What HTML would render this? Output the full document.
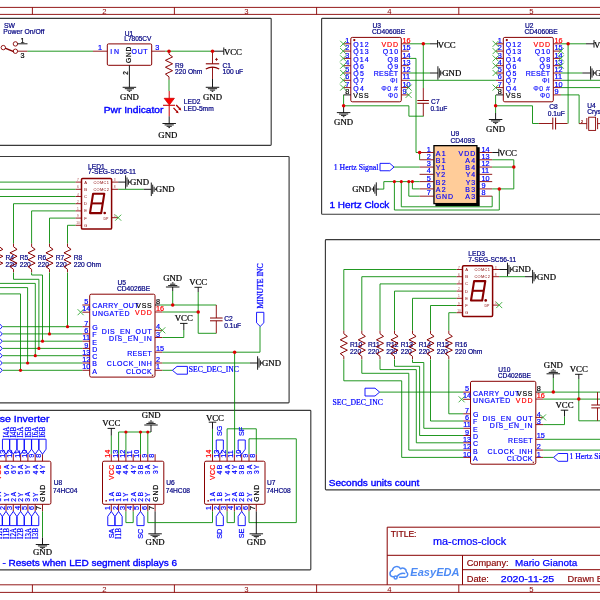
<!DOCTYPE html>
<html><head><meta charset="utf-8"><title>ma-cmos-clock</title>
<style>html,body{margin:0;padding:0;background:#fff;overflow:hidden}svg{display:block;will-change:transform}text{white-space:pre}</style>
</head><body>
<svg width="600" height="600" viewBox="0 0 600 600" font-family="Liberation Sans, sans-serif">
<rect x="0" y="0" width="600" height="600" fill="#ffffff"/>
<polyline points="-5,7.4 605,7.4" stroke="#880000" stroke-width="0.9" fill="none" />
<polyline points="-5,14.4 605,14.4" stroke="#880000" stroke-width="0.9" fill="none" />
<polyline points="-5,584.8 605,584.8" stroke="#880000" stroke-width="0.9" fill="none" />
<polyline points="-5,592.4 605,592.4" stroke="#880000" stroke-width="0.9" fill="none" />
<polyline points="32.4,7.4 32.4,14.4" stroke="#880000" stroke-width="0.9" fill="none" />
<polyline points="32.4,584.8 32.4,592.5" stroke="#880000" stroke-width="0.9" fill="none" />
<polyline points="174.4,7.4 174.4,14.4" stroke="#880000" stroke-width="0.9" fill="none" />
<polyline points="174.4,584.8 174.4,592.5" stroke="#880000" stroke-width="0.9" fill="none" />
<polyline points="316.6,7.4 316.6,14.4" stroke="#880000" stroke-width="0.9" fill="none" />
<polyline points="316.6,584.8 316.6,592.5" stroke="#880000" stroke-width="0.9" fill="none" />
<polyline points="458.8,7.4 458.8,14.4" stroke="#880000" stroke-width="0.9" fill="none" />
<polyline points="458.8,584.8 458.8,592.5" stroke="#880000" stroke-width="0.9" fill="none" />
<text x="104.5" y="13.7" font-family="Liberation Sans" font-size="7.74" fill="#880000" text-anchor="middle">2</text>
<text x="104.5" y="591.6" font-family="Liberation Sans" font-size="7.74" fill="#880000" text-anchor="middle">2</text>
<text x="246.5" y="13.7" font-family="Liberation Sans" font-size="7.74" fill="#880000" text-anchor="middle">3</text>
<text x="246.5" y="591.6" font-family="Liberation Sans" font-size="7.74" fill="#880000" text-anchor="middle">3</text>
<text x="389.5" y="13.7" font-family="Liberation Sans" font-size="7.74" fill="#880000" text-anchor="middle">4</text>
<text x="389.5" y="591.6" font-family="Liberation Sans" font-size="7.74" fill="#880000" text-anchor="middle">4</text>
<text x="531.5" y="13.7" font-family="Liberation Sans" font-size="7.74" fill="#880000" text-anchor="middle">5</text>
<text x="531.5" y="591.6" font-family="Liberation Sans" font-size="7.74" fill="#880000" text-anchor="middle">5</text>
<rect x="-10" y="18.4" width="281.2" height="126.9" stroke="#3a3a3a" stroke-width="1.15" fill="none" rx="0.8"/>
<rect x="321.6" y="18.4" width="378.4" height="195.9" stroke="#3a3a3a" stroke-width="1.15" fill="none" rx="0.8"/>
<rect x="-10" y="156.5" width="299.1" height="246.4" stroke="#3a3a3a" stroke-width="1.15" fill="none" rx="0.8"/>
<rect x="-10" y="410.3" width="320.8" height="159.5" stroke="#3a3a3a" stroke-width="1.15" fill="none" rx="0.8"/>
<rect x="325.4" y="239.6" width="374.6" height="250.2" stroke="#3a3a3a" stroke-width="1.15" fill="none" rx="0.8"/>
<polyline points="387.2,584.8 387.2,527.2 605,527.2" stroke="#880000" stroke-width="1" fill="none" />
<polyline points="387.2,555.3 605,555.3" stroke="#880000" stroke-width="1" fill="none" />
<polyline points="462.5,555.3 462.5,584.8" stroke="#880000" stroke-width="1" fill="none" />
<polyline points="462.5,569.7 605,569.7" stroke="#880000" stroke-width="1" fill="none" />
<text x="390.8" y="536.7" font-family="Liberation Sans" font-size="8.27" fill="#880000" textLength="25.71" lengthAdjust="spacingAndGlyphs" stroke="#880000" stroke-width="0.2">TITLE:</text>
<text x="433" y="545.2" font-family="Liberation Sans" font-size="10.18" fill="#0000ff" textLength="73.14" lengthAdjust="spacingAndGlyphs" stroke="#0000ff" stroke-width="0.2">ma-cmos-clock</text>
<text x="466.7" y="565.6" font-family="Liberation Sans" font-size="8.59" fill="#880000" textLength="41.97" lengthAdjust="spacingAndGlyphs" stroke="#880000" stroke-width="0.15">Company:</text>
<text x="515" y="565.8" font-family="Liberation Sans" font-size="9.43" fill="#0000ff" textLength="62.2" lengthAdjust="spacingAndGlyphs" stroke="#0000ff" stroke-width="0.25">Mario Gianota</text>
<text x="466.7" y="581.5" font-family="Liberation Sans" font-size="8.37" fill="#880000" textLength="22.25" lengthAdjust="spacingAndGlyphs" stroke="#880000" stroke-width="0.15">Date:</text>
<text x="500.8" y="581.7" font-family="Liberation Sans" font-size="9.43" fill="#0000ff" textLength="53.36" lengthAdjust="spacingAndGlyphs" stroke="#0000ff" stroke-width="0.25">2020-11-25</text>
<text x="567.5" y="581.5" font-family="Liberation Sans" font-size="8.48" fill="#880000" textLength="42.67" lengthAdjust="spacingAndGlyphs" stroke="#880000" stroke-width="0.15">Drawn By:</text>
<g transform="translate(0,1.2)" fill="none" stroke="#4d8bf5" stroke-width="1.5" stroke-linecap="round" stroke-linejoin="round"><path d="M394.2 575.6 H392.6 A3.3 3.3 0 0 1 392.4 569.2 A4.4 4.4 0 0 1 400.6 567.6 A3.6 3.6 0 0 1 406.3 570.6 A2.9 2.9 0 0 1 405.2 576 H399.5"/><circle cx="395.6" cy="576.3" r="1.5"/><path d="M397 575.4 C399 572.6 401.5 571.6 404.6 572.2"/></g>
<text x="410.3" y="576.2" font-family="Liberation Sans" font-size="11.4" fill="#4d8bf5" textLength="49.2" lengthAdjust="spacingAndGlyphs" font-weight="bold" font-style="italic">EasyEDA</text>
<text x="3.9" y="28" font-family="Liberation Sans" font-size="6.8" fill="#000080" stroke="#000080" stroke-width="0.2">SW</text>
<text x="3.3" y="33.9" font-family="Liberation Sans" font-size="6.8" fill="#000080" stroke="#000080" stroke-width="0.2">Power On/Off</text>
<circle cx="15.4" cy="43.9" r="2.2" fill="#fff" stroke="#880000" stroke-width="0.9"/>
<circle cx="15.4" cy="51.25" r="2.2" fill="#fff" stroke="#880000" stroke-width="0.9"/>
<circle cx="3.3" cy="47.6" r="2.2" fill="#fff" stroke="#880000" stroke-width="0.9"/>
<polyline points="5.1,48.1 13.7,51.6" stroke="#880000" stroke-width="1.5" fill="none" />
<polyline points="17.4,43.8 27.5,43.8" stroke="#000000" stroke-width="0.9" fill="none" />
<polyline points="17.4,51.2 27.5,51.2" stroke="#880000" stroke-width="0.9" fill="none" />
<text x="22.4" y="43.4" font-family="Liberation Sans" font-size="7.2" fill="#000000" text-anchor="middle" stroke="#000000" stroke-width="0.2">1</text>
<text x="22.5" y="58.1" font-family="Liberation Sans" font-size="7.2" fill="#000000" text-anchor="middle" stroke="#000000" stroke-width="0.2">3</text>
<polyline points="27.5,51.2 93,51.2" stroke="#008800" stroke-width="0.87" fill="none" />
<polyline points="93,51.2 107.3,51.2" stroke="#880000" stroke-width="0.9" fill="none" />
<rect x="107.3" y="43.9" width="44.4" height="21.4" stroke="#880000" stroke-width="1" fill="none" rx="1.2"/>
<text x="124.8" y="35.6" font-family="Liberation Sans" font-size="6.65" fill="#000080" stroke="#000080" stroke-width="0.2">U1</text>
<text x="124.3" y="41.4" font-family="Liberation Sans" font-size="6.5" fill="#000080" stroke="#000080" stroke-width="0.2">L7805CV</text>
<text x="110.2" y="53.6" font-family="Liberation Sans" font-size="6.98" fill="#0000ff" textLength="8.77" lengthAdjust="spacing" stroke="#0000ff" stroke-width="0.18">IN</text>
<text x="131.6" y="53.6" font-family="Liberation Sans" font-size="6.98" fill="#0000ff" textLength="16.01" lengthAdjust="spacing" stroke="#0000ff" stroke-width="0.18">OUT</text>
<text x="131.4" y="63" font-family="Liberation Sans" font-size="6.6" fill="#000000" transform="rotate(-90 131.4 63)" textLength="16.29" lengthAdjust="spacing" stroke="#000000" stroke-width="0.18">GND</text>
<text x="100" y="50.1" font-family="Liberation Sans" font-size="7.3" fill="#0000ff" text-anchor="middle" stroke="#0000ff" stroke-width="0.2">1</text>
<text x="157.4" y="50.1" font-family="Liberation Sans" font-size="7.3" fill="#0000ff" text-anchor="middle" stroke="#0000ff" stroke-width="0.2">3</text>
<text x="127.6" y="74.8" font-family="Liberation Sans" font-size="6.4" fill="#000000" transform="rotate(-90 127.6 74.8)" stroke="#000000" stroke-width="0.2">2</text>
<polyline points="129.4,65.3 129.4,87.3" stroke="#000000" stroke-width="0.9" fill="none" />
<polyline points="122.65,87.3 136.15,87.3" stroke="#000000" stroke-width="0.9" fill="none" />
<polyline points="124.8,88.7 134,88.7" stroke="#000000" stroke-width="0.9" fill="none" />
<polyline points="126.8,90.1 132,90.1" stroke="#000000" stroke-width="0.9" fill="none" />
<polyline points="128.6,91.4 130.2,91.4" stroke="#000000" stroke-width="0.9" fill="none" />
<text x="129.4" y="99.5" font-family="Liberation Serif" font-size="8.75" fill="#000000" text-anchor="middle" stroke="#000000" stroke-width="0.22">GND</text>
<text x="103.8" y="112.6" font-family="Liberation Sans" font-size="9.43" fill="#0000ff" textLength="59.64" lengthAdjust="spacingAndGlyphs" stroke="#0000ff" stroke-width="0.35">Pwr Indicator</text>
<polyline points="151.7,51.2 165.3,51.2" stroke="#880000" stroke-width="0.9" fill="none" />
<polyline points="165.3,51.2 212.5,51.2" stroke="#008800" stroke-width="0.87" fill="none" />
<polyline points="212.5,51.2 223.8,51.2" stroke="#000000" stroke-width="0.9" fill="none" />
<polyline points="223.8,47.45 223.8,54.95" stroke="#000000" stroke-width="0.9" fill="none" />
<text x="223.9" y="54.9" font-family="Liberation Serif" font-size="8.75" fill="#000000" stroke="#000000" stroke-width="0.22">VCC</text>
<polyline points="169,51.2 169,54.2" stroke="#880000" stroke-width="0.9" fill="none" />
<polyline points="169,54.2 172.55,56.9 165.45,60.34 172.55,63.78 165.45,67.22 172.55,70.66 165.45,74.1 169,76.8" stroke="#880000" stroke-width="1" fill="none" stroke-linejoin="miter"/>
<polyline points="169,76.8 169,79.8" stroke="#880000" stroke-width="0.9" fill="none" />
<polyline points="169,79.8 169,91" stroke="#008800" stroke-width="0.87" fill="none" />
<polyline points="169.2,91 169.2,98.3" stroke="#cc0000" stroke-width="1" fill="none" />
<text x="175" y="67.6" font-family="Liberation Sans" font-size="6.65" fill="#000080" stroke="#000080" stroke-width="0.2">R9</text>
<text x="175" y="74.3" font-family="Liberation Sans" font-size="6.65" fill="#000080" stroke="#000080" stroke-width="0.2">220 Ohm</text>
<polygon points="164.2,98.3 174.4,98.3 169.3,105" fill="#ff0000" stroke="#cc0000" stroke-width="0.8"/>
<polyline points="163,105.3 175,105.3" stroke="#cc0000" stroke-width="1.1" fill="none" />
<polyline points="169.2,105.3 169.2,116.3" stroke="#cc0000" stroke-width="1" fill="none" />
<polyline points="169.2,116.3 169.2,123.5" stroke="#000000" stroke-width="0.9" fill="none" />
<polyline points="162.45,123.5 175.95,123.5" stroke="#000000" stroke-width="0.9" fill="none" />
<polyline points="164.6,124.9 173.8,124.9" stroke="#000000" stroke-width="0.9" fill="none" />
<polyline points="166.6,126.3 171.8,126.3" stroke="#000000" stroke-width="0.9" fill="none" />
<polyline points="168.4,127.6 170,127.6" stroke="#000000" stroke-width="0.9" fill="none" />
<text x="167.8" y="138.4" font-family="Liberation Serif" font-size="8.75" fill="#000000" text-anchor="middle" stroke="#000000" stroke-width="0.22">GND</text>
<polyline points="176.2,105 180,109" stroke="#aa0000" stroke-width="1.3" fill="none" />
<polygon points="181.3,110.4 178.3,109.6 180.4,107.6" fill="#aa0000"/>
<polyline points="173.5,107.9 177.3,111.9" stroke="#aa0000" stroke-width="1.3" fill="none" />
<polygon points="178.6,113.3 175.6,112.5 177.7,110.5" fill="#aa0000"/>
<text x="183.8" y="103.9" font-family="Liberation Sans" font-size="6.65" fill="#000080" stroke="#000080" stroke-width="0.2">LED2</text>
<text x="183.8" y="110.5" font-family="Liberation Sans" font-size="6.65" fill="#000080" stroke="#000080" stroke-width="0.2">LED-5mm</text>
<polyline points="212.5,51.2 212.5,63.8" stroke="#880000" stroke-width="0.9" fill="none" />
<polyline points="205.8,63.8 219.2,63.8" stroke="#880000" stroke-width="1.1" fill="none" />
<path d="M205.8 69 Q212.5 65.2 219.2 69" stroke="#880000" stroke-width="1.1" fill="none"/>
<polyline points="212.5,67.1 212.5,79" stroke="#880000" stroke-width="0.9" fill="none" />
<polyline points="212.5,79 212.5,87.3" stroke="#000000" stroke-width="0.9" fill="none" />
<polyline points="205.75,87.3 219.25,87.3" stroke="#000000" stroke-width="0.9" fill="none" />
<polyline points="207.9,88.7 217.1,88.7" stroke="#000000" stroke-width="0.9" fill="none" />
<polyline points="209.9,90.1 215.1,90.1" stroke="#000000" stroke-width="0.9" fill="none" />
<polyline points="211.7,91.4 213.3,91.4" stroke="#000000" stroke-width="0.9" fill="none" />
<text x="212.5" y="99.5" font-family="Liberation Serif" font-size="8.75" fill="#000000" text-anchor="middle" stroke="#000000" stroke-width="0.22">GND</text>
<polyline points="215,59.4 218,59.4" stroke="#880000" stroke-width="0.8" fill="none" />
<polyline points="216.5,57.9 216.5,60.9" stroke="#880000" stroke-width="0.8" fill="none" />
<text x="222.5" y="67.6" font-family="Liberation Sans" font-size="6.65" fill="#000080" stroke="#000080" stroke-width="0.2">C1</text>
<text x="222.5" y="74.3" font-family="Liberation Sans" font-size="6.65" fill="#000080" stroke="#000080" stroke-width="0.2">100 uF</text>
<rect x="350.8" y="37.4" width="50.5" height="64.4" stroke="#880000" stroke-width="1" fill="none" rx="1.5"/>
<circle cx="354.3" cy="40.1" r="1.15" fill="#880000"/>
<text x="372.5" y="27.6" font-family="Liberation Sans" font-size="6.65" fill="#000080" stroke="#000080" stroke-width="0.2">U3</text>
<text x="372" y="33.9" font-family="Liberation Sans" font-size="6.65" fill="#000080" stroke="#000080" stroke-width="0.2">CD4060BE</text>
<text x="353.2" y="46.9" font-family="Liberation Sans" font-size="6.98" fill="#0000ff" textLength="15.44" lengthAdjust="spacing" stroke="#0000ff" stroke-width="0.18">Q12</text>
<polyline points="343.5,43.8 350.8,43.8" stroke="#880000" stroke-width="0.9" fill="none" />
<text x="347.4" y="42.9" font-family="Liberation Sans" font-size="7.3" fill="#0000ff" text-anchor="middle" stroke="#0000ff" stroke-width="0.2">1</text>
<text x="398.1" y="46.9" font-family="Liberation Sans" font-size="6.98" fill="#ff0000" text-anchor="end" textLength="16.7" lengthAdjust="spacing" stroke="#ff0000" stroke-width="0.18">VDD</text>
<polyline points="401.3,43.8 408.9,43.8" stroke="#880000" stroke-width="0.9" fill="none" />
<text x="402.5" y="42.9" font-family="Liberation Sans" font-size="7.3" fill="#ff0000" stroke="#ff0000" stroke-width="0.2">16</text>
<text x="353.2" y="54.2" font-family="Liberation Sans" font-size="6.98" fill="#0000ff" textLength="15.44" lengthAdjust="spacing" stroke="#0000ff" stroke-width="0.18">Q13</text>
<polyline points="343.5,51.1 350.8,51.1" stroke="#880000" stroke-width="0.9" fill="none" />
<text x="347.4" y="50.2" font-family="Liberation Sans" font-size="7.3" fill="#0000ff" text-anchor="middle" stroke="#0000ff" stroke-width="0.2">2</text>
<text x="398.1" y="54.2" font-family="Liberation Sans" font-size="6.98" fill="#0000ff" text-anchor="end" textLength="15.44" lengthAdjust="spacing" stroke="#0000ff" stroke-width="0.18">Q10</text>
<polyline points="401.3,51.1 408.9,51.1" stroke="#880000" stroke-width="0.9" fill="none" />
<text x="402.5" y="50.2" font-family="Liberation Sans" font-size="7.3" fill="#0000ff" stroke="#0000ff" stroke-width="0.2">15</text>
<text x="353.2" y="61.5" font-family="Liberation Sans" font-size="6.98" fill="#0000ff" textLength="15.44" lengthAdjust="spacing" stroke="#0000ff" stroke-width="0.18">Q14</text>
<polyline points="343.5,58.4 350.8,58.4" stroke="#880000" stroke-width="0.9" fill="none" />
<text x="347.4" y="57.5" font-family="Liberation Sans" font-size="7.3" fill="#0000ff" text-anchor="middle" stroke="#0000ff" stroke-width="0.2">3</text>
<text x="398.1" y="61.5" font-family="Liberation Sans" font-size="6.98" fill="#0000ff" text-anchor="end" textLength="10.67" lengthAdjust="spacing" stroke="#0000ff" stroke-width="0.18">Q8</text>
<polyline points="401.3,58.4 408.9,58.4" stroke="#880000" stroke-width="0.9" fill="none" />
<text x="402.5" y="57.5" font-family="Liberation Sans" font-size="7.3" fill="#0000ff" stroke="#0000ff" stroke-width="0.2">14</text>
<text x="353.2" y="68.8" font-family="Liberation Sans" font-size="6.98" fill="#0000ff" textLength="10.67" lengthAdjust="spacing" stroke="#0000ff" stroke-width="0.18">Q6</text>
<polyline points="343.5,65.7 350.8,65.7" stroke="#880000" stroke-width="0.9" fill="none" />
<text x="347.4" y="64.8" font-family="Liberation Sans" font-size="7.3" fill="#0000ff" text-anchor="middle" stroke="#0000ff" stroke-width="0.2">4</text>
<text x="398.1" y="68.8" font-family="Liberation Sans" font-size="6.98" fill="#0000ff" text-anchor="end" textLength="10.67" lengthAdjust="spacing" stroke="#0000ff" stroke-width="0.18">Q9</text>
<polyline points="401.3,65.7 408.9,65.7" stroke="#880000" stroke-width="0.9" fill="none" />
<text x="402.5" y="64.8" font-family="Liberation Sans" font-size="7.3" fill="#0000ff" stroke="#0000ff" stroke-width="0.2">13</text>
<text x="353.2" y="76.1" font-family="Liberation Sans" font-size="6.98" fill="#0000ff" textLength="10.67" lengthAdjust="spacing" stroke="#0000ff" stroke-width="0.18">Q5</text>
<polyline points="343.5,73 350.8,73" stroke="#880000" stroke-width="0.9" fill="none" />
<text x="347.4" y="72.1" font-family="Liberation Sans" font-size="7.3" fill="#0000ff" text-anchor="middle" stroke="#0000ff" stroke-width="0.2">5</text>
<text x="398.1" y="76.1" font-family="Liberation Sans" font-size="6.98" fill="#0000ff" text-anchor="end" textLength="24.44" lengthAdjust="spacing" stroke="#0000ff" stroke-width="0.18">RESET</text>
<polyline points="401.3,73 408.9,73" stroke="#880000" stroke-width="0.9" fill="none" />
<text x="402.5" y="72.1" font-family="Liberation Sans" font-size="7.3" fill="#0000ff" stroke="#0000ff" stroke-width="0.2">12</text>
<text x="353.2" y="83.4" font-family="Liberation Sans" font-size="6.98" fill="#0000ff" textLength="10.67" lengthAdjust="spacing" stroke="#0000ff" stroke-width="0.18">Q7</text>
<polyline points="343.5,80.3 350.8,80.3" stroke="#880000" stroke-width="0.9" fill="none" />
<text x="347.4" y="79.4" font-family="Liberation Sans" font-size="7.3" fill="#0000ff" text-anchor="middle" stroke="#0000ff" stroke-width="0.2">6</text>
<text x="398.3" y="83.4" font-family="Liberation Sans" font-size="6.9" fill="#0000ff" text-anchor="end" stroke="#0000ff" stroke-width="0.1" letter-spacing="0.5">ΦI</text>
<polyline points="401.3,80.3 408.9,80.3" stroke="#880000" stroke-width="0.9" fill="none" />
<text x="402.5" y="79.4" font-family="Liberation Sans" font-size="7.3" fill="#0000ff" stroke="#0000ff" stroke-width="0.2">11</text>
<text x="353.2" y="90.7" font-family="Liberation Sans" font-size="6.98" fill="#0000ff" textLength="10.67" lengthAdjust="spacing" stroke="#0000ff" stroke-width="0.18">Q4</text>
<polyline points="343.5,87.6 350.8,87.6" stroke="#880000" stroke-width="0.9" fill="none" />
<text x="347.4" y="86.7" font-family="Liberation Sans" font-size="7.3" fill="#0000ff" text-anchor="middle" stroke="#0000ff" stroke-width="0.2">7</text>
<text x="398.3" y="90.7" font-family="Liberation Sans" font-size="6.9" fill="#0000ff" text-anchor="end" stroke="#0000ff" stroke-width="0.1" letter-spacing="0.5">Φ0 #</text>
<polyline points="401.3,87.6 408.9,87.6" stroke="#880000" stroke-width="0.9" fill="none" />
<text x="402.5" y="86.7" font-family="Liberation Sans" font-size="7.3" fill="#0000ff" stroke="#0000ff" stroke-width="0.2">10</text>
<text x="353.2" y="98" font-family="Liberation Sans" font-size="6.98" fill="#000000" textLength="15.39" lengthAdjust="spacing" stroke="#000000" stroke-width="0.18">VSS</text>
<polyline points="343.5,94.9 350.8,94.9" stroke="#000000" stroke-width="0.9" fill="none" />
<text x="347.4" y="94" font-family="Liberation Sans" font-size="7.3" fill="#000000" text-anchor="middle" stroke="#000000" stroke-width="0.2">8</text>
<text x="398.3" y="98" font-family="Liberation Sans" font-size="6.9" fill="#0000ff" text-anchor="end" stroke="#0000ff" stroke-width="0.1" letter-spacing="0.5">Φ0</text>
<polyline points="401.3,94.9 408.9,94.9" stroke="#880000" stroke-width="0.9" fill="none" />
<text x="402.5" y="94" font-family="Liberation Sans" font-size="7.3" fill="#0000ff" stroke="#0000ff" stroke-width="0.2">9</text>
<polyline points="340.2,40.8 346.2,46.8" stroke="#33aa33" stroke-width="0.9" fill="none" />
<polyline points="340.2,46.8 346.2,40.8" stroke="#33aa33" stroke-width="0.9" fill="none" />
<polyline points="340.2,48.1 346.2,54.1" stroke="#33aa33" stroke-width="0.9" fill="none" />
<polyline points="340.2,54.1 346.2,48.1" stroke="#33aa33" stroke-width="0.9" fill="none" />
<polyline points="340.2,55.4 346.2,61.4" stroke="#33aa33" stroke-width="0.9" fill="none" />
<polyline points="340.2,61.4 346.2,55.4" stroke="#33aa33" stroke-width="0.9" fill="none" />
<polyline points="340.2,62.7 346.2,68.7" stroke="#33aa33" stroke-width="0.9" fill="none" />
<polyline points="340.2,68.7 346.2,62.7" stroke="#33aa33" stroke-width="0.9" fill="none" />
<polyline points="340.2,70 346.2,76" stroke="#33aa33" stroke-width="0.9" fill="none" />
<polyline points="340.2,76 346.2,70" stroke="#33aa33" stroke-width="0.9" fill="none" />
<polyline points="340.2,77.3 346.2,83.3" stroke="#33aa33" stroke-width="0.9" fill="none" />
<polyline points="340.2,83.3 346.2,77.3" stroke="#33aa33" stroke-width="0.9" fill="none" />
<polyline points="340.2,84.6 346.2,90.6" stroke="#33aa33" stroke-width="0.9" fill="none" />
<polyline points="340.2,90.6 346.2,84.6" stroke="#33aa33" stroke-width="0.9" fill="none" />
<polyline points="405.6,84.6 411.6,90.6" stroke="#33aa33" stroke-width="0.9" fill="none" />
<polyline points="405.6,90.6 411.6,84.6" stroke="#33aa33" stroke-width="0.9" fill="none" />
<polyline points="405.6,91.9 411.6,97.9" stroke="#33aa33" stroke-width="0.9" fill="none" />
<polyline points="405.6,97.9 411.6,91.9" stroke="#33aa33" stroke-width="0.9" fill="none" />
<polyline points="343.6,94.9 343.6,105.8" stroke="#008800" stroke-width="0.87" fill="none" />
<polyline points="343.6,105.8 343.6,112.6" stroke="#000000" stroke-width="0.9" fill="none" />
<polyline points="336.85,112.6 350.35,112.6" stroke="#000000" stroke-width="0.9" fill="none" />
<polyline points="339,114 348.2,114" stroke="#000000" stroke-width="0.9" fill="none" />
<polyline points="341,115.4 346.2,115.4" stroke="#000000" stroke-width="0.9" fill="none" />
<polyline points="342.8,116.7 344.4,116.7" stroke="#000000" stroke-width="0.9" fill="none" />
<text x="343.6" y="124.8" font-family="Liberation Serif" font-size="8.75" fill="#000000" text-anchor="middle" stroke="#000000" stroke-width="0.22">GND</text>
<polyline points="408.9,43.8 430,43.8" stroke="#008800" stroke-width="0.87" fill="none" />
<polyline points="430,43.8 437.6,43.8" stroke="#000000" stroke-width="0.9" fill="none" />
<polyline points="437.6,40.05 437.6,47.55" stroke="#000000" stroke-width="0.9" fill="none" />
<text x="437.7" y="47.5" font-family="Liberation Serif" font-size="8.75" fill="#000000" stroke="#000000" stroke-width="0.22">VCC</text>
<polyline points="423.3,43.8 423.3,88" stroke="#008800" stroke-width="0.87" fill="none" />
<polyline points="423.3,88 423.3,100.5" stroke="#880000" stroke-width="0.9" fill="none" />
<polyline points="417.3,100.5 428.9,100.5" stroke="#880000" stroke-width="1" fill="none" />
<polyline points="417.3,103.3 428.9,103.3" stroke="#880000" stroke-width="1" fill="none" />
<polyline points="423.3,103.3 423.3,116.2" stroke="#880000" stroke-width="0.9" fill="none" />
<polyline points="423.6,116.2 408.9,116.2 408.9,105.8 343.6,105.8" stroke="#008800" stroke-width="0.87" fill="none" />
<text x="431.1" y="104.1" font-family="Liberation Sans" font-size="6.65" fill="#000080" stroke="#000080" stroke-width="0.2">C7</text>
<text x="430.4" y="110.8" font-family="Liberation Sans" font-size="6.65" fill="#000080" stroke="#000080" stroke-width="0.2">0.1uF</text>
<polyline points="408.9,58.4 416,58.4 416,152.5 419.6,152.5" stroke="#008800" stroke-width="0.87" fill="none" />
<polyline points="408.9,73 430,73" stroke="#008800" stroke-width="0.87" fill="none" />
<polyline points="430,73 437.9,73" stroke="#000000" stroke-width="0.9" fill="none" />
<polyline points="437.9,66.25 437.9,79.75" stroke="#000000" stroke-width="0.9" fill="none" />
<polyline points="439.3,68.4 439.3,77.6" stroke="#000000" stroke-width="0.9" fill="none" />
<polyline points="440.7,70.4 440.7,75.6" stroke="#000000" stroke-width="0.9" fill="none" />
<polyline points="442,72.2 442,73.8" stroke="#000000" stroke-width="0.9" fill="none" />
<text x="442.3" y="75.8" font-family="Liberation Serif" font-size="8.75" fill="#000000" stroke="#000000" stroke-width="0.22">GND</text>
<polyline points="408.9,80.3 495.9,80.3" stroke="#008800" stroke-width="0.87" fill="none" />
<rect x="503.3" y="37.4" width="50" height="64.4" stroke="#880000" stroke-width="1" fill="none" rx="1.5"/>
<circle cx="506.8" cy="40.1" r="1.15" fill="#880000"/>
<text x="525" y="27.6" font-family="Liberation Sans" font-size="6.65" fill="#000080" stroke="#000080" stroke-width="0.2">U2</text>
<text x="524.5" y="33.9" font-family="Liberation Sans" font-size="6.65" fill="#000080" stroke="#000080" stroke-width="0.2">CD4060BE</text>
<text x="505.7" y="46.9" font-family="Liberation Sans" font-size="6.98" fill="#0000ff" textLength="15.44" lengthAdjust="spacing" stroke="#0000ff" stroke-width="0.18">Q12</text>
<polyline points="496,43.8 503.3,43.8" stroke="#880000" stroke-width="0.9" fill="none" />
<text x="499.9" y="42.9" font-family="Liberation Sans" font-size="7.3" fill="#0000ff" text-anchor="middle" stroke="#0000ff" stroke-width="0.2">1</text>
<text x="550.1" y="46.9" font-family="Liberation Sans" font-size="6.98" fill="#ff0000" text-anchor="end" textLength="16.7" lengthAdjust="spacing" stroke="#ff0000" stroke-width="0.18">VDD</text>
<polyline points="553.3,43.8 560.9,43.8" stroke="#880000" stroke-width="0.9" fill="none" />
<text x="554.5" y="42.9" font-family="Liberation Sans" font-size="7.3" fill="#ff0000" stroke="#ff0000" stroke-width="0.2">16</text>
<text x="505.7" y="54.2" font-family="Liberation Sans" font-size="6.98" fill="#0000ff" textLength="15.44" lengthAdjust="spacing" stroke="#0000ff" stroke-width="0.18">Q13</text>
<polyline points="496,51.1 503.3,51.1" stroke="#880000" stroke-width="0.9" fill="none" />
<text x="499.9" y="50.2" font-family="Liberation Sans" font-size="7.3" fill="#0000ff" text-anchor="middle" stroke="#0000ff" stroke-width="0.2">2</text>
<text x="550.1" y="54.2" font-family="Liberation Sans" font-size="6.98" fill="#0000ff" text-anchor="end" textLength="15.44" lengthAdjust="spacing" stroke="#0000ff" stroke-width="0.18">Q10</text>
<polyline points="553.3,51.1 560.9,51.1" stroke="#880000" stroke-width="0.9" fill="none" />
<text x="554.5" y="50.2" font-family="Liberation Sans" font-size="7.3" fill="#0000ff" stroke="#0000ff" stroke-width="0.2">15</text>
<text x="505.7" y="61.5" font-family="Liberation Sans" font-size="6.98" fill="#0000ff" textLength="15.44" lengthAdjust="spacing" stroke="#0000ff" stroke-width="0.18">Q14</text>
<polyline points="496,58.4 503.3,58.4" stroke="#880000" stroke-width="0.9" fill="none" />
<text x="499.9" y="57.5" font-family="Liberation Sans" font-size="7.3" fill="#0000ff" text-anchor="middle" stroke="#0000ff" stroke-width="0.2">3</text>
<text x="550.1" y="61.5" font-family="Liberation Sans" font-size="6.98" fill="#0000ff" text-anchor="end" textLength="10.67" lengthAdjust="spacing" stroke="#0000ff" stroke-width="0.18">Q8</text>
<polyline points="553.3,58.4 560.9,58.4" stroke="#880000" stroke-width="0.9" fill="none" />
<text x="554.5" y="57.5" font-family="Liberation Sans" font-size="7.3" fill="#0000ff" stroke="#0000ff" stroke-width="0.2">14</text>
<text x="505.7" y="68.8" font-family="Liberation Sans" font-size="6.98" fill="#0000ff" textLength="10.67" lengthAdjust="spacing" stroke="#0000ff" stroke-width="0.18">Q6</text>
<polyline points="496,65.7 503.3,65.7" stroke="#880000" stroke-width="0.9" fill="none" />
<text x="499.9" y="64.8" font-family="Liberation Sans" font-size="7.3" fill="#0000ff" text-anchor="middle" stroke="#0000ff" stroke-width="0.2">4</text>
<text x="550.1" y="68.8" font-family="Liberation Sans" font-size="6.98" fill="#0000ff" text-anchor="end" textLength="10.67" lengthAdjust="spacing" stroke="#0000ff" stroke-width="0.18">Q9</text>
<polyline points="553.3,65.7 560.9,65.7" stroke="#880000" stroke-width="0.9" fill="none" />
<text x="554.5" y="64.8" font-family="Liberation Sans" font-size="7.3" fill="#0000ff" stroke="#0000ff" stroke-width="0.2">13</text>
<text x="505.7" y="76.1" font-family="Liberation Sans" font-size="6.98" fill="#0000ff" textLength="10.67" lengthAdjust="spacing" stroke="#0000ff" stroke-width="0.18">Q5</text>
<polyline points="496,73 503.3,73" stroke="#880000" stroke-width="0.9" fill="none" />
<text x="499.9" y="72.1" font-family="Liberation Sans" font-size="7.3" fill="#0000ff" text-anchor="middle" stroke="#0000ff" stroke-width="0.2">5</text>
<text x="550.1" y="76.1" font-family="Liberation Sans" font-size="6.98" fill="#0000ff" text-anchor="end" textLength="24.44" lengthAdjust="spacing" stroke="#0000ff" stroke-width="0.18">RESET</text>
<polyline points="553.3,73 560.9,73" stroke="#880000" stroke-width="0.9" fill="none" />
<text x="554.5" y="72.1" font-family="Liberation Sans" font-size="7.3" fill="#0000ff" stroke="#0000ff" stroke-width="0.2">12</text>
<text x="505.7" y="83.4" font-family="Liberation Sans" font-size="6.98" fill="#0000ff" textLength="10.67" lengthAdjust="spacing" stroke="#0000ff" stroke-width="0.18">Q7</text>
<polyline points="496,80.3 503.3,80.3" stroke="#880000" stroke-width="0.9" fill="none" />
<text x="499.9" y="79.4" font-family="Liberation Sans" font-size="7.3" fill="#0000ff" text-anchor="middle" stroke="#0000ff" stroke-width="0.2">6</text>
<text x="550.3" y="83.4" font-family="Liberation Sans" font-size="6.9" fill="#0000ff" text-anchor="end" stroke="#0000ff" stroke-width="0.1" letter-spacing="0.5">ΦI</text>
<polyline points="553.3,80.3 560.9,80.3" stroke="#880000" stroke-width="0.9" fill="none" />
<text x="554.5" y="79.4" font-family="Liberation Sans" font-size="7.3" fill="#0000ff" stroke="#0000ff" stroke-width="0.2">11</text>
<text x="505.7" y="90.7" font-family="Liberation Sans" font-size="6.98" fill="#0000ff" textLength="10.67" lengthAdjust="spacing" stroke="#0000ff" stroke-width="0.18">Q4</text>
<polyline points="496,87.6 503.3,87.6" stroke="#880000" stroke-width="0.9" fill="none" />
<text x="499.9" y="86.7" font-family="Liberation Sans" font-size="7.3" fill="#0000ff" text-anchor="middle" stroke="#0000ff" stroke-width="0.2">7</text>
<text x="550.3" y="90.7" font-family="Liberation Sans" font-size="6.9" fill="#0000ff" text-anchor="end" stroke="#0000ff" stroke-width="0.1" letter-spacing="0.5">Φ0 #</text>
<polyline points="553.3,87.6 560.9,87.6" stroke="#880000" stroke-width="0.9" fill="none" />
<text x="554.5" y="86.7" font-family="Liberation Sans" font-size="7.3" fill="#0000ff" stroke="#0000ff" stroke-width="0.2">10</text>
<text x="505.7" y="98" font-family="Liberation Sans" font-size="6.98" fill="#000000" textLength="15.39" lengthAdjust="spacing" stroke="#000000" stroke-width="0.18">VSS</text>
<polyline points="496,94.9 503.3,94.9" stroke="#000000" stroke-width="0.9" fill="none" />
<text x="499.9" y="94" font-family="Liberation Sans" font-size="7.3" fill="#000000" text-anchor="middle" stroke="#000000" stroke-width="0.2">8</text>
<text x="550.3" y="98" font-family="Liberation Sans" font-size="6.9" fill="#0000ff" text-anchor="end" stroke="#0000ff" stroke-width="0.1" letter-spacing="0.5">Φ0</text>
<polyline points="553.3,94.9 560.9,94.9" stroke="#880000" stroke-width="0.9" fill="none" />
<text x="554.5" y="94" font-family="Liberation Sans" font-size="7.3" fill="#0000ff" stroke="#0000ff" stroke-width="0.2">9</text>
<polyline points="492.6,40.8 498.6,46.8" stroke="#33aa33" stroke-width="0.9" fill="none" />
<polyline points="492.6,46.8 498.6,40.8" stroke="#33aa33" stroke-width="0.9" fill="none" />
<polyline points="492.6,48.1 498.6,54.1" stroke="#33aa33" stroke-width="0.9" fill="none" />
<polyline points="492.6,54.1 498.6,48.1" stroke="#33aa33" stroke-width="0.9" fill="none" />
<polyline points="492.6,55.4 498.6,61.4" stroke="#33aa33" stroke-width="0.9" fill="none" />
<polyline points="492.6,61.4 498.6,55.4" stroke="#33aa33" stroke-width="0.9" fill="none" />
<polyline points="492.6,62.7 498.6,68.7" stroke="#33aa33" stroke-width="0.9" fill="none" />
<polyline points="492.6,68.7 498.6,62.7" stroke="#33aa33" stroke-width="0.9" fill="none" />
<polyline points="492.6,70 498.6,76" stroke="#33aa33" stroke-width="0.9" fill="none" />
<polyline points="492.6,76 498.6,70" stroke="#33aa33" stroke-width="0.9" fill="none" />
<polyline points="492.6,84.6 498.6,90.6" stroke="#33aa33" stroke-width="0.9" fill="none" />
<polyline points="492.6,90.6 498.6,84.6" stroke="#33aa33" stroke-width="0.9" fill="none" />
<polyline points="557.8,48.1 563.8,54.1" stroke="#33aa33" stroke-width="0.9" fill="none" />
<polyline points="557.8,54.1 563.8,48.1" stroke="#33aa33" stroke-width="0.9" fill="none" />
<polyline points="557.8,55.4 563.8,61.4" stroke="#33aa33" stroke-width="0.9" fill="none" />
<polyline points="557.8,61.4 563.8,55.4" stroke="#33aa33" stroke-width="0.9" fill="none" />
<polyline points="557.8,62.7 563.8,68.7" stroke="#33aa33" stroke-width="0.9" fill="none" />
<polyline points="557.8,68.7 563.8,62.7" stroke="#33aa33" stroke-width="0.9" fill="none" />
<polyline points="495.6,94.9 495.6,113" stroke="#008800" stroke-width="0.87" fill="none" />
<polyline points="495.6,113 495.6,119.5" stroke="#000000" stroke-width="0.9" fill="none" />
<polyline points="488.85,119.5 502.35,119.5" stroke="#000000" stroke-width="0.9" fill="none" />
<polyline points="491,120.9 500.2,120.9" stroke="#000000" stroke-width="0.9" fill="none" />
<polyline points="493,122.3 498.2,122.3" stroke="#000000" stroke-width="0.9" fill="none" />
<polyline points="494.8,123.6 496.4,123.6" stroke="#000000" stroke-width="0.9" fill="none" />
<text x="495.6" y="132.2" font-family="Liberation Serif" font-size="8.75" fill="#000000" text-anchor="middle" stroke="#000000" stroke-width="0.22">GND</text>
<polyline points="495.6,105.8 532.5,105.8 532.5,123.5 538.8,123.5" stroke="#008800" stroke-width="0.87" fill="none" />
<polyline points="538.8,123.5 552.8,123.5" stroke="#880000" stroke-width="0.9" fill="none" />
<polyline points="555.6,123.5 567.6,123.5" stroke="#880000" stroke-width="0.9" fill="none" />
<polyline points="552.8,117.6 552.8,129.5" stroke="#880000" stroke-width="1" fill="none" />
<polyline points="555.6,117.6 555.6,129.5" stroke="#880000" stroke-width="1" fill="none" />
<polyline points="568.1,123.5 568.1,43.8" stroke="#008800" stroke-width="0.87" fill="none" />
<text x="549.3" y="108.8" font-family="Liberation Sans" font-size="6.65" fill="#000080" stroke="#000080" stroke-width="0.2">C8</text>
<text x="547.8" y="115.9" font-family="Liberation Sans" font-size="6.65" fill="#000080" stroke="#000080" stroke-width="0.2">0.1uF</text>
<polyline points="560.9,43.8 586,43.8" stroke="#008800" stroke-width="0.87" fill="none" />
<polyline points="586,43.8 594,43.8" stroke="#000000" stroke-width="0.9" fill="none" />
<polyline points="594,40.05 594,47.55" stroke="#000000" stroke-width="0.9" fill="none" />
<text x="594.1" y="47.5" font-family="Liberation Serif" font-size="8.75" fill="#000000" stroke="#000000" stroke-width="0.22">VCC</text>
<polyline points="560.9,73 582.3,73" stroke="#008800" stroke-width="0.87" fill="none" />
<polyline points="582.3,73 590.6,73" stroke="#000000" stroke-width="0.9" fill="none" />
<polyline points="590.6,66.25 590.6,79.75" stroke="#000000" stroke-width="0.9" fill="none" />
<polyline points="592,68.4 592,77.6" stroke="#000000" stroke-width="0.9" fill="none" />
<polyline points="593.4,70.4 593.4,75.6" stroke="#000000" stroke-width="0.9" fill="none" />
<polyline points="594.7,72.2 594.7,73.8" stroke="#000000" stroke-width="0.9" fill="none" />
<text x="595" y="75.8" font-family="Liberation Serif" font-size="8.75" fill="#000000" stroke="#000000" stroke-width="0.22">GND</text>
<polyline points="560.9,80.3 605,80.3" stroke="#008800" stroke-width="0.87" fill="none" />
<polyline points="560.9,87.6 605,87.6" stroke="#008800" stroke-width="0.87" fill="none" />
<polyline points="560.9,94.9 579.1,94.9 579.1,123.6" stroke="#008800" stroke-width="0.87" fill="none" />
<polyline points="579.1,123.6 586.8,123.6" stroke="#880000" stroke-width="0.9" fill="none" />
<text x="581" y="122.6" font-family="Liberation Sans" font-size="3.6" fill="#880000" stroke="#880000" stroke-width="0.2">2</text>
<polyline points="586.8,118 586.8,129.2" stroke="#880000" stroke-width="0.9" fill="none" />
<rect x="588.7" y="117.2" width="6.9" height="13.2" stroke="#880000" stroke-width="0.9" fill="none" rx="0"/>
<polyline points="597.6,118 597.6,129.2" stroke="#880000" stroke-width="0.9" fill="none" />
<polyline points="597.6,123.6 605,123.6" stroke="#880000" stroke-width="0.9" fill="none" />
<text x="587.3" y="107.5" font-family="Liberation Sans" font-size="6.65" fill="#000080" stroke="#000080" stroke-width="0.2">U4</text>
<text x="587.3" y="114.1" font-family="Liberation Sans" font-size="6.65" fill="#000080" stroke="#000080" stroke-width="0.2">Crystal</text>
<rect x="435.4" y="147.2" width="44.3" height="59.1" stroke="#000000" stroke-width="0" fill="#000" rx="0"/>
<rect x="433.95" y="145.65" width="42.95" height="57.95" stroke="#000000" stroke-width="1.3" fill="#ffcc99" rx="0"/>
<text x="450.8" y="135.9" font-family="Liberation Sans" font-size="6.65" fill="#000080" stroke="#000080" stroke-width="0.2">U9</text>
<text x="450.5" y="142.5" font-family="Liberation Sans" font-size="6.65" fill="#000080" stroke="#000080" stroke-width="0.2">CD4093</text>
<polyline points="419.6,152.5 433.8,152.5" stroke="#880000" stroke-width="0.9" fill="none" />
<polyline points="479,152.5 492.2,152.5" stroke="#880000" stroke-width="0.9" fill="none" />
<text x="435.8" y="155.6" font-family="Liberation Sans" font-size="6.98" fill="#0000ff" textLength="9.9" lengthAdjust="spacing" stroke="#0000ff" stroke-width="0.18">A1</text>
<text x="475.2" y="155.6" font-family="Liberation Sans" font-size="6.98" fill="#0000ff" text-anchor="end" textLength="16.7" lengthAdjust="spacing" stroke="#0000ff" stroke-width="0.18">VDD</text>
<text x="428.8" y="151.6" font-family="Liberation Sans" font-size="7.3" fill="#0000ff" text-anchor="middle" stroke="#0000ff" stroke-width="0.2">1</text>
<text x="481.4" y="151.6" font-family="Liberation Sans" font-size="7.3" fill="#0000ff" stroke="#0000ff" stroke-width="0.2">14</text>
<polyline points="419.6,159.78 433.8,159.78" stroke="#880000" stroke-width="0.9" fill="none" />
<polyline points="479,159.78 492.2,159.78" stroke="#880000" stroke-width="0.9" fill="none" />
<text x="435.8" y="162.88" font-family="Liberation Sans" font-size="6.98" fill="#0000ff" textLength="9.91" lengthAdjust="spacing" stroke="#0000ff" stroke-width="0.18">B1</text>
<text x="475.2" y="162.88" font-family="Liberation Sans" font-size="6.98" fill="#0000ff" text-anchor="end" textLength="9.9" lengthAdjust="spacing" stroke="#0000ff" stroke-width="0.18">A4</text>
<text x="428.8" y="158.88" font-family="Liberation Sans" font-size="7.3" fill="#0000ff" text-anchor="middle" stroke="#0000ff" stroke-width="0.2">2</text>
<text x="481.4" y="158.88" font-family="Liberation Sans" font-size="7.3" fill="#0000ff" stroke="#0000ff" stroke-width="0.2">13</text>
<polyline points="419.6,167.06 433.8,167.06" stroke="#880000" stroke-width="0.9" fill="none" />
<polyline points="479,167.06 492.2,167.06" stroke="#880000" stroke-width="0.9" fill="none" />
<text x="435.8" y="170.16" font-family="Liberation Sans" font-size="6.98" fill="#0000ff" textLength="9.38" lengthAdjust="spacing" stroke="#0000ff" stroke-width="0.18">Y1</text>
<text x="475.2" y="170.16" font-family="Liberation Sans" font-size="6.98" fill="#0000ff" text-anchor="end" textLength="9.91" lengthAdjust="spacing" stroke="#0000ff" stroke-width="0.18">B4</text>
<text x="428.8" y="166.16" font-family="Liberation Sans" font-size="7.3" fill="#0000ff" text-anchor="middle" stroke="#0000ff" stroke-width="0.2">3</text>
<text x="481.4" y="166.16" font-family="Liberation Sans" font-size="7.3" fill="#0000ff" stroke="#0000ff" stroke-width="0.2">12</text>
<polyline points="419.6,174.34 433.8,174.34" stroke="#880000" stroke-width="0.9" fill="none" />
<polyline points="479,174.34 492.2,174.34" stroke="#880000" stroke-width="0.9" fill="none" />
<text x="435.8" y="177.44" font-family="Liberation Sans" font-size="6.98" fill="#0000ff" textLength="9.38" lengthAdjust="spacing" stroke="#0000ff" stroke-width="0.18">Y2</text>
<text x="475.2" y="177.44" font-family="Liberation Sans" font-size="6.98" fill="#0000ff" text-anchor="end" textLength="9.38" lengthAdjust="spacing" stroke="#0000ff" stroke-width="0.18">Y4</text>
<text x="428.8" y="173.44" font-family="Liberation Sans" font-size="7.3" fill="#0000ff" text-anchor="middle" stroke="#0000ff" stroke-width="0.2">4</text>
<text x="481.4" y="173.44" font-family="Liberation Sans" font-size="7.3" fill="#0000ff" stroke="#0000ff" stroke-width="0.2">11</text>
<polyline points="419.6,181.62 433.8,181.62" stroke="#880000" stroke-width="0.9" fill="none" />
<polyline points="479,181.62 492.2,181.62" stroke="#880000" stroke-width="0.9" fill="none" />
<text x="435.8" y="184.72" font-family="Liberation Sans" font-size="6.98" fill="#0000ff" textLength="9.91" lengthAdjust="spacing" stroke="#0000ff" stroke-width="0.18">B2</text>
<text x="475.2" y="184.72" font-family="Liberation Sans" font-size="6.98" fill="#0000ff" text-anchor="end" textLength="9.38" lengthAdjust="spacing" stroke="#0000ff" stroke-width="0.18">Y3</text>
<text x="428.8" y="180.72" font-family="Liberation Sans" font-size="7.3" fill="#0000ff" text-anchor="middle" stroke="#0000ff" stroke-width="0.2">5</text>
<text x="481.4" y="180.72" font-family="Liberation Sans" font-size="7.3" fill="#0000ff" stroke="#0000ff" stroke-width="0.2">10</text>
<polyline points="419.6,188.9 433.8,188.9" stroke="#880000" stroke-width="0.9" fill="none" />
<polyline points="479,188.9 492.2,188.9" stroke="#880000" stroke-width="0.9" fill="none" />
<text x="435.8" y="192" font-family="Liberation Sans" font-size="6.98" fill="#0000ff" textLength="9.9" lengthAdjust="spacing" stroke="#0000ff" stroke-width="0.18">A2</text>
<text x="475.2" y="192" font-family="Liberation Sans" font-size="6.98" fill="#0000ff" text-anchor="end" textLength="9.91" lengthAdjust="spacing" stroke="#0000ff" stroke-width="0.18">B3</text>
<text x="428.8" y="188" font-family="Liberation Sans" font-size="7.3" fill="#0000ff" text-anchor="middle" stroke="#0000ff" stroke-width="0.2">6</text>
<text x="481.4" y="188" font-family="Liberation Sans" font-size="7.3" fill="#0000ff" stroke="#0000ff" stroke-width="0.2">9</text>
<polyline points="419.6,196.18 433.8,196.18" stroke="#880000" stroke-width="0.9" fill="none" />
<polyline points="479,196.18 492.2,196.18" stroke="#880000" stroke-width="0.9" fill="none" />
<text x="435.8" y="199.28" font-family="Liberation Sans" font-size="6.98" fill="#0000ff" textLength="17.2" lengthAdjust="spacing" stroke="#0000ff" stroke-width="0.18">GND</text>
<text x="475.2" y="199.28" font-family="Liberation Sans" font-size="6.98" fill="#0000ff" text-anchor="end" textLength="9.9" lengthAdjust="spacing" stroke="#0000ff" stroke-width="0.18">A3</text>
<text x="428.8" y="195.28" font-family="Liberation Sans" font-size="7.3" fill="#0000ff" text-anchor="middle" stroke="#0000ff" stroke-width="0.2">7</text>
<text x="481.4" y="195.28" font-family="Liberation Sans" font-size="7.3" fill="#0000ff" stroke="#0000ff" stroke-width="0.2">8</text>
<polyline points="419.6,152.5 419.6,159.78" stroke="#008800" stroke-width="0.87" fill="none" />
<polyline points="492.2,152.5 498.8,152.5" stroke="#000000" stroke-width="0.9" fill="none" />
<polyline points="498.8,148.75 498.8,156.25" stroke="#000000" stroke-width="0.9" fill="none" />
<text x="498.9" y="156.2" font-family="Liberation Serif" font-size="8.75" fill="#000000" stroke="#000000" stroke-width="0.22">VCC</text>
<polyline points="492.2,159.78 513.8,159.78 513.8,188.9 492.2,188.9" stroke="#008800" stroke-width="0.87" fill="none" />
<polyline points="492.2,167.06 513.8,167.06" stroke="#008800" stroke-width="0.87" fill="none" />
<polyline points="499.3,188.9 499.3,210 394.4,210 394.4,181.62" stroke="#008800" stroke-width="0.87" fill="none" />
<polyline points="492.2,196.18 492.2,206.8 401.3,206.8 401.3,181.62" stroke="#008800" stroke-width="0.87" fill="none" />
<polyline points="419.6,196.18 408.8,196.18 408.8,181.62" stroke="#008800" stroke-width="0.87" fill="none" />
<polyline points="419.6,188.9 412.4,188.9 412.4,181.62" stroke="#008800" stroke-width="0.87" fill="none" />
<polyline points="419.6,181.62 383.8,181.62 383.8,189.1 379,189.1" stroke="#008800" stroke-width="0.87" fill="none" />
<polyline points="379,189.1 376.3,189.1" stroke="#000000" stroke-width="0.9" fill="none" />
<polyline points="376.3,182.35 376.3,195.85" stroke="#000000" stroke-width="0.9" fill="none" />
<polyline points="374.9,184.5 374.9,193.7" stroke="#000000" stroke-width="0.9" fill="none" />
<polyline points="373.5,186.5 373.5,191.7" stroke="#000000" stroke-width="0.9" fill="none" />
<polyline points="372.2,188.3 372.2,189.9" stroke="#000000" stroke-width="0.9" fill="none" />
<text x="371.2" y="192.1" font-family="Liberation Serif" font-size="8.75" fill="#000000" text-anchor="end" stroke="#000000" stroke-width="0.22">GND</text>
<polyline points="394,167.06 419.6,167.06" stroke="#008800" stroke-width="0.87" fill="none" />
<polyline points="394,167.06 389.8,163.36 380,163.36 380,170.76 389.8,170.76 394,167.06" stroke="#0000ff" stroke-width="0.9" fill="none" />
<text x="333.8" y="170.4" font-family="Liberation Serif" font-size="8.5" fill="#0000ff" textLength="44.6" lengthAdjust="spacingAndGlyphs" stroke="#0000ff" stroke-width="0.22">1 Hertz Signal</text>
<text x="329.5" y="207.6" font-family="Liberation Sans" font-size="9.43" fill="#0000ff" textLength="59.85" lengthAdjust="spacingAndGlyphs" stroke="#0000ff" stroke-width="0.35">1 Hertz Clock</text>
<rect x="81.5" y="178.4" width="30.1" height="50.7" stroke="#880000" stroke-width="1.5" fill="none" rx="1.2"/>
<text x="88.1" y="168.7" font-family="Liberation Sans" font-size="6.65" fill="#000080" stroke="#000080" stroke-width="0.2">LED1</text>
<text x="88.1" y="174.3" font-family="Liberation Sans" font-size="6.65" fill="#000080" stroke="#000080" stroke-width="0.2">7-SEG-SC56-11</text>
<polyline points="75.5,182.1 81.5,182.1" stroke="#880000" stroke-width="0.9" fill="none" />
<text x="85.6" y="183.6" font-family="Liberation Sans" font-size="4.2" fill="#880000" text-anchor="middle">A</text>
<text x="77.9" y="181.2" font-family="Liberation Sans" font-size="3.2" fill="#aa4444" text-anchor="middle">7</text>
<polyline points="75.5,189.3 81.5,189.3" stroke="#880000" stroke-width="0.9" fill="none" />
<text x="85.6" y="190.8" font-family="Liberation Sans" font-size="4.2" fill="#880000" text-anchor="middle">B</text>
<text x="77.9" y="188.4" font-family="Liberation Sans" font-size="3.2" fill="#aa4444" text-anchor="middle">6</text>
<polyline points="75.5,196.5 81.5,196.5" stroke="#880000" stroke-width="0.9" fill="none" />
<text x="85.6" y="198" font-family="Liberation Sans" font-size="4.2" fill="#880000" text-anchor="middle">C</text>
<text x="77.9" y="195.6" font-family="Liberation Sans" font-size="3.2" fill="#aa4444" text-anchor="middle">4</text>
<polyline points="75.5,203.7 81.5,203.7" stroke="#880000" stroke-width="0.9" fill="none" />
<text x="85.6" y="205.2" font-family="Liberation Sans" font-size="4.2" fill="#880000" text-anchor="middle">D</text>
<text x="77.9" y="202.8" font-family="Liberation Sans" font-size="3.2" fill="#aa4444" text-anchor="middle">2</text>
<polyline points="75.5,210.9 81.5,210.9" stroke="#880000" stroke-width="0.9" fill="none" />
<text x="85.6" y="212.4" font-family="Liberation Sans" font-size="4.2" fill="#880000" text-anchor="middle">E</text>
<text x="77.9" y="210" font-family="Liberation Sans" font-size="3.2" fill="#aa4444" text-anchor="middle">1</text>
<polyline points="75.5,218.1 81.5,218.1" stroke="#880000" stroke-width="0.9" fill="none" />
<text x="85.6" y="219.6" font-family="Liberation Sans" font-size="4.2" fill="#880000" text-anchor="middle">F</text>
<text x="77.9" y="217.2" font-family="Liberation Sans" font-size="3.2" fill="#aa4444" text-anchor="middle">9</text>
<polyline points="75.5,225.3 81.5,225.3" stroke="#880000" stroke-width="0.9" fill="none" />
<text x="85.6" y="226.8" font-family="Liberation Sans" font-size="4.2" fill="#880000" text-anchor="middle">G</text>
<text x="77.9" y="224.4" font-family="Liberation Sans" font-size="3.2" fill="#aa4444" text-anchor="middle">10</text>
<text x="109.2" y="183.5" font-family="Liberation Sans" font-size="3.9" fill="#880000" text-anchor="end" letter-spacing="0.35">COMC1</text>
<text x="109.2" y="190.7" font-family="Liberation Sans" font-size="3.9" fill="#880000" text-anchor="end" letter-spacing="0.35">COMC2</text>
<text x="108.4" y="219.6" font-family="Liberation Sans" font-size="3.6" fill="#880000" text-anchor="end">DP</text>
<polyline points="111.6,182.1 118.2,182.1" stroke="#880000" stroke-width="0.9" fill="none" />
<polyline points="111.6,189.3 118.2,189.3" stroke="#880000" stroke-width="0.9" fill="none" />
<polyline points="111.6,217.7 118.2,217.7" stroke="#880000" stroke-width="0.9" fill="none" />
<text x="114.6" y="181.2" font-family="Liberation Sans" font-size="3.2" fill="#aa4444" text-anchor="middle">3</text>
<text x="114.6" y="188.4" font-family="Liberation Sans" font-size="3.2" fill="#aa4444" text-anchor="middle">8</text>
<text x="114.6" y="216.8" font-family="Liberation Sans" font-size="3.2" fill="#aa4444" text-anchor="middle">5</text>
<polyline points="93.1,193.7 104.3,193.7 101.2,213.1 90,213.1 93.1,193.7 104.3,193.7" stroke="#880000" stroke-width="2.1" fill="none" stroke-linejoin="round"/>
<polyline points="91.55,203.4 102.75,203.4" stroke="#880000" stroke-width="2" fill="none" />
<circle cx="104.7" cy="213" r="1.35" fill="#880000"/>
<polyline points="115.2,214.7 121.2,220.7" stroke="#33aa33" stroke-width="0.9" fill="none" />
<polyline points="115.2,220.7 121.2,214.7" stroke="#33aa33" stroke-width="0.9" fill="none" />
<polyline points="118.2,182.1 125.6,182.1" stroke="#000000" stroke-width="0.9" fill="none" />
<polyline points="125.6,175.35 125.6,188.85" stroke="#000000" stroke-width="0.9" fill="none" />
<polyline points="127,177.5 127,186.7" stroke="#000000" stroke-width="0.9" fill="none" />
<polyline points="128.4,179.5 128.4,184.7" stroke="#000000" stroke-width="0.9" fill="none" />
<polyline points="129.7,181.3 129.7,182.9" stroke="#000000" stroke-width="0.9" fill="none" />
<text x="130" y="184.9" font-family="Liberation Serif" font-size="8.75" fill="#000000" stroke="#000000" stroke-width="0.22">GND</text>
<polyline points="118.2,189.3 143.8,189.3" stroke="#008800" stroke-width="0.87" fill="none" />
<polyline points="143.8,189.3 151.3,189.3" stroke="#000000" stroke-width="0.9" fill="none" />
<polyline points="151.3,182.55 151.3,196.05" stroke="#000000" stroke-width="0.9" fill="none" />
<polyline points="152.7,184.7 152.7,193.9" stroke="#000000" stroke-width="0.9" fill="none" />
<polyline points="154.1,186.7 154.1,191.9" stroke="#000000" stroke-width="0.9" fill="none" />
<polyline points="155.4,188.5 155.4,190.1" stroke="#000000" stroke-width="0.9" fill="none" />
<text x="155.7" y="192.1" font-family="Liberation Serif" font-size="8.75" fill="#000000" stroke="#000000" stroke-width="0.22">GND</text>
<polyline points="-5,182.1 75.5,182.1" stroke="#008800" stroke-width="0.87" fill="none" />
<polyline points="-5,189.3 75.5,189.3" stroke="#008800" stroke-width="0.87" fill="none" />
<polyline points="-5,196.5 75.5,196.5" stroke="#008800" stroke-width="0.87" fill="none" />
<polyline points="75.5,203.7 13.5,203.7 13.5,243.7" stroke="#008800" stroke-width="0.87" fill="none" />
<polyline points="75.5,210.9 31.6,210.9 31.6,243.7" stroke="#008800" stroke-width="0.87" fill="none" />
<polyline points="75.5,218.1 49.5,218.1 49.5,243.7" stroke="#008800" stroke-width="0.87" fill="none" />
<polyline points="75.5,225.3 67.5,225.3 67.5,243.7" stroke="#008800" stroke-width="0.87" fill="none" />
<polyline points="-0.7,243.7 -0.7,246.7" stroke="#880000" stroke-width="0.9" fill="none" />
<polyline points="-0.7,246.7 2.85,249.4 -4.25,252.84 2.85,256.28 -4.25,259.72 2.85,263.16 -4.25,266.6 -0.7,269.3" stroke="#880000" stroke-width="1" fill="none" stroke-linejoin="miter"/>
<polyline points="-0.7,269.3 -0.7,272.3" stroke="#880000" stroke-width="0.9" fill="none" />
<text x="5.5" y="260" font-family="Liberation Sans" font-size="6.65" fill="#000080" stroke="#000080" stroke-width="0.2">R4</text>
<text x="5.5" y="266.7" font-family="Liberation Sans" font-size="6.65" fill="#000080" stroke="#000080" stroke-width="0.2">220</text>
<polyline points="13.5,243.7 13.5,246.7" stroke="#880000" stroke-width="0.9" fill="none" />
<polyline points="13.5,246.7 17.05,249.4 9.95,252.84 17.05,256.28 9.95,259.72 17.05,263.16 9.95,266.6 13.5,269.3" stroke="#880000" stroke-width="1" fill="none" stroke-linejoin="miter"/>
<polyline points="13.5,269.3 13.5,272.3" stroke="#880000" stroke-width="0.9" fill="none" />
<text x="19.7" y="260" font-family="Liberation Sans" font-size="6.65" fill="#000080" stroke="#000080" stroke-width="0.2">R5</text>
<text x="19.7" y="266.7" font-family="Liberation Sans" font-size="6.65" fill="#000080" stroke="#000080" stroke-width="0.2">220</text>
<polyline points="31.6,243.7 31.6,246.7" stroke="#880000" stroke-width="0.9" fill="none" />
<polyline points="31.6,246.7 35.15,249.4 28.05,252.84 35.15,256.28 28.05,259.72 35.15,263.16 28.05,266.6 31.6,269.3" stroke="#880000" stroke-width="1" fill="none" stroke-linejoin="miter"/>
<polyline points="31.6,269.3 31.6,272.3" stroke="#880000" stroke-width="0.9" fill="none" />
<text x="37.8" y="260" font-family="Liberation Sans" font-size="6.65" fill="#000080" stroke="#000080" stroke-width="0.2">R6</text>
<text x="37.8" y="266.7" font-family="Liberation Sans" font-size="6.65" fill="#000080" stroke="#000080" stroke-width="0.2">220</text>
<polyline points="49.5,243.7 49.5,246.7" stroke="#880000" stroke-width="0.9" fill="none" />
<polyline points="49.5,246.7 53.05,249.4 45.95,252.84 53.05,256.28 45.95,259.72 53.05,263.16 45.95,266.6 49.5,269.3" stroke="#880000" stroke-width="1" fill="none" stroke-linejoin="miter"/>
<polyline points="49.5,269.3 49.5,272.3" stroke="#880000" stroke-width="0.9" fill="none" />
<text x="55.7" y="260" font-family="Liberation Sans" font-size="6.65" fill="#000080" stroke="#000080" stroke-width="0.2">R7</text>
<text x="55.7" y="266.7" font-family="Liberation Sans" font-size="6.65" fill="#000080" stroke="#000080" stroke-width="0.2">220</text>
<polyline points="67.5,243.7 67.5,246.7" stroke="#880000" stroke-width="0.9" fill="none" />
<polyline points="67.5,246.7 71.05,249.4 63.95,252.84 71.05,256.28 63.95,259.72 71.05,263.16 63.95,266.6 67.5,269.3" stroke="#880000" stroke-width="1" fill="none" stroke-linejoin="miter"/>
<polyline points="67.5,269.3 67.5,272.3" stroke="#880000" stroke-width="0.9" fill="none" />
<text x="73.7" y="260" font-family="Liberation Sans" font-size="6.65" fill="#000080" stroke="#000080" stroke-width="0.2">R8</text>
<text x="73.7" y="266.7" font-family="Liberation Sans" font-size="6.65" fill="#000080" stroke="#000080" stroke-width="0.2">220 Ohm</text>
<rect x="89.7" y="294.2" width="65.3" height="82.9" stroke="#880000" stroke-width="1" fill="none" rx="1.5"/>
<polygon points="151.4,374.7 153.6,374.7 152.5,376.2" fill="#880000"/>
<text x="117.5" y="284.6" font-family="Liberation Sans" font-size="6.65" fill="#000080" stroke="#000080" stroke-width="0.2">U5</text>
<text x="117" y="291.2" font-family="Liberation Sans" font-size="6.65" fill="#000080" stroke="#000080" stroke-width="0.2">CD4026BE</text>
<polyline points="82.3,305 89.7,305" stroke="#880000" stroke-width="0.9" fill="none" />
<text x="86.3" y="304.1" font-family="Liberation Sans" font-size="7.3" fill="#0000ff" text-anchor="middle" stroke="#0000ff" stroke-width="0.2">5</text>
<text x="92.3" y="308.4" font-family="Liberation Sans" font-size="6.98" fill="#0000ff" textLength="46.19" lengthAdjust="spacing" stroke="#0000ff" stroke-width="0.18">CARRY_OUT</text>
<polyline points="82.3,312.2 89.7,312.2" stroke="#880000" stroke-width="0.9" fill="none" />
<text x="86.3" y="311.3" font-family="Liberation Sans" font-size="7.3" fill="#0000ff" text-anchor="middle" stroke="#0000ff" stroke-width="0.2">14</text>
<text x="92.3" y="315.6" font-family="Liberation Sans" font-size="6.98" fill="#0000ff" textLength="37.19" lengthAdjust="spacing" stroke="#0000ff" stroke-width="0.18">UNGATED</text>
<polyline points="82.3,326.7 89.7,326.7" stroke="#880000" stroke-width="0.9" fill="none" />
<text x="86.3" y="325.8" font-family="Liberation Sans" font-size="7.3" fill="#0000ff" text-anchor="middle" stroke="#0000ff" stroke-width="0.2">7</text>
<text x="92.3" y="330.1" font-family="Liberation Sans" font-size="6.98" fill="#0000ff" stroke="#0000ff" stroke-width="0.18">G</text>
<polyline points="82.3,333.9 89.7,333.9" stroke="#880000" stroke-width="0.9" fill="none" />
<text x="86.3" y="333" font-family="Liberation Sans" font-size="7.3" fill="#0000ff" text-anchor="middle" stroke="#0000ff" stroke-width="0.2">6</text>
<text x="92.3" y="337.3" font-family="Liberation Sans" font-size="6.98" fill="#0000ff" stroke="#0000ff" stroke-width="0.18">F</text>
<polyline points="82.3,341.2 89.7,341.2" stroke="#880000" stroke-width="0.9" fill="none" />
<text x="86.3" y="340.3" font-family="Liberation Sans" font-size="7.3" fill="#0000ff" text-anchor="middle" stroke="#0000ff" stroke-width="0.2">11</text>
<text x="92.3" y="344.6" font-family="Liberation Sans" font-size="6.98" fill="#0000ff" stroke="#0000ff" stroke-width="0.18">E</text>
<polyline points="82.3,348.4 89.7,348.4" stroke="#880000" stroke-width="0.9" fill="none" />
<text x="86.3" y="347.5" font-family="Liberation Sans" font-size="7.3" fill="#0000ff" text-anchor="middle" stroke="#0000ff" stroke-width="0.2">9</text>
<text x="92.3" y="351.8" font-family="Liberation Sans" font-size="6.98" fill="#0000ff" stroke="#0000ff" stroke-width="0.18">D</text>
<polyline points="82.3,355.7 89.7,355.7" stroke="#880000" stroke-width="0.9" fill="none" />
<text x="86.3" y="354.8" font-family="Liberation Sans" font-size="7.3" fill="#0000ff" text-anchor="middle" stroke="#0000ff" stroke-width="0.2">13</text>
<text x="92.3" y="359.1" font-family="Liberation Sans" font-size="6.98" fill="#0000ff" stroke="#0000ff" stroke-width="0.18">C</text>
<polyline points="82.3,363 89.7,363" stroke="#880000" stroke-width="0.9" fill="none" />
<text x="86.3" y="362.1" font-family="Liberation Sans" font-size="7.3" fill="#0000ff" text-anchor="middle" stroke="#0000ff" stroke-width="0.2">12</text>
<text x="92.3" y="366.4" font-family="Liberation Sans" font-size="6.98" fill="#0000ff" stroke="#0000ff" stroke-width="0.18">B</text>
<polyline points="82.3,370.3 89.7,370.3" stroke="#880000" stroke-width="0.9" fill="none" />
<text x="86.3" y="369.4" font-family="Liberation Sans" font-size="7.3" fill="#0000ff" text-anchor="middle" stroke="#0000ff" stroke-width="0.2">10</text>
<text x="92.3" y="373.7" font-family="Liberation Sans" font-size="6.98" fill="#0000ff" stroke="#0000ff" stroke-width="0.18">A</text>
<polyline points="155,305 160,305" stroke="#000000" stroke-width="0.9" fill="none" />
<text x="155.9" y="304.1" font-family="Liberation Sans" font-size="7.3" fill="#000000" stroke="#000000" stroke-width="0.2">8</text>
<text x="151.7" y="308.4" font-family="Liberation Sans" font-size="6.98" fill="#000000" text-anchor="end" textLength="15.39" lengthAdjust="spacing" stroke="#000000" stroke-width="0.18">VSS</text>
<polyline points="155,312 162.4,312" stroke="#880000" stroke-width="0.9" fill="none" />
<text x="155.9" y="311.1" font-family="Liberation Sans" font-size="7.3" fill="#ff0000" stroke="#ff0000" stroke-width="0.2">16</text>
<text x="151.7" y="315.4" font-family="Liberation Sans" font-size="6.98" fill="#ff0000" text-anchor="end" textLength="16.7" lengthAdjust="spacing" stroke="#ff0000" stroke-width="0.18">VDD</text>
<polyline points="155,330.3 162.4,330.3" stroke="#880000" stroke-width="0.9" fill="none" />
<text x="155.9" y="329.4" font-family="Liberation Sans" font-size="7.3" fill="#0000ff" stroke="#0000ff" stroke-width="0.2">4</text>
<text x="151.7" y="333.7" font-family="Liberation Sans" font-size="6.98" fill="#0000ff" text-anchor="end" textLength="49.97" lengthAdjust="spacing" stroke="#0000ff" stroke-width="0.18">DIS_EN_OUT</text>
<polyline points="155,337.5 162.4,337.5" stroke="#880000" stroke-width="0.9" fill="none" />
<text x="155.9" y="336.6" font-family="Liberation Sans" font-size="7.3" fill="#0000ff" stroke="#0000ff" stroke-width="0.2">3</text>
<text x="151.7" y="340.9" font-family="Liberation Sans" font-size="6.98" fill="#0000ff" text-anchor="end" textLength="42.73" lengthAdjust="spacing" stroke="#0000ff" stroke-width="0.18">DIS_EN_IN</text>
<polyline points="155,352.2 162.4,352.2" stroke="#880000" stroke-width="0.9" fill="none" />
<text x="155.9" y="351.3" font-family="Liberation Sans" font-size="7.3" fill="#0000ff" stroke="#0000ff" stroke-width="0.2">15</text>
<text x="151.7" y="355.6" font-family="Liberation Sans" font-size="6.98" fill="#0000ff" text-anchor="end" textLength="24.44" lengthAdjust="spacing" stroke="#0000ff" stroke-width="0.18">RESET</text>
<polyline points="155,363 162.4,363" stroke="#880000" stroke-width="0.9" fill="none" />
<text x="155.9" y="362.1" font-family="Liberation Sans" font-size="7.3" fill="#0000ff" stroke="#0000ff" stroke-width="0.2">2</text>
<text x="151.7" y="366.4" font-family="Liberation Sans" font-size="6.98" fill="#0000ff" text-anchor="end" textLength="44.92" lengthAdjust="spacing" stroke="#0000ff" stroke-width="0.18">CLOCK_INH</text>
<polyline points="155,370.3 162.4,370.3" stroke="#880000" stroke-width="0.9" fill="none" />
<text x="155.9" y="369.4" font-family="Liberation Sans" font-size="7.3" fill="#0000ff" stroke="#0000ff" stroke-width="0.2">1</text>
<text x="151.7" y="373.7" font-family="Liberation Sans" font-size="6.98" fill="#0000ff" text-anchor="end" textLength="25.75" lengthAdjust="spacing" stroke="#0000ff" stroke-width="0.18">CLOCK</text>
<polyline points="77.6,309.2 83.6,315.2" stroke="#33aa33" stroke-width="0.9" fill="none" />
<polyline points="77.6,315.2 83.6,309.2" stroke="#33aa33" stroke-width="0.9" fill="none" />
<polyline points="67.5,272.5 67.5,326.7" stroke="#008800" stroke-width="0.87" fill="none" />
<polyline points="49.5,272.5 49.5,333.9" stroke="#008800" stroke-width="0.87" fill="none" />
<polyline points="31.6,272.5 31.6,275 42.5,275 42.5,341.2" stroke="#008800" stroke-width="0.87" fill="none" />
<polyline points="13.5,272.5 13.5,279.3 38.9,279.3 38.9,348.4" stroke="#008800" stroke-width="0.87" fill="none" />
<polyline points="-5,283.4 35.3,283.4 35.3,355.7" stroke="#008800" stroke-width="0.87" fill="none" />
<polyline points="-5,287.6 27.6,287.6 27.6,363" stroke="#008800" stroke-width="0.87" fill="none" />
<polyline points="-5,293.9 20.5,293.9 20.5,370.3" stroke="#008800" stroke-width="0.87" fill="none" />
<polyline points="2.5,326.7 82.3,326.7" stroke="#008800" stroke-width="0.87" fill="none" />
<path d="M-3 324.1 H0 L2.2 326.7 L0 329.3 H-3" stroke="#0000ff" stroke-width="0.9" fill="none"/>
<polyline points="2.5,333.9 82.3,333.9" stroke="#008800" stroke-width="0.87" fill="none" />
<path d="M-3 331.3 H0 L2.2 333.9 L0 336.5 H-3" stroke="#0000ff" stroke-width="0.9" fill="none"/>
<polyline points="2.5,341.2 82.3,341.2" stroke="#008800" stroke-width="0.87" fill="none" />
<path d="M-3 338.6 H0 L2.2 341.2 L0 343.8 H-3" stroke="#0000ff" stroke-width="0.9" fill="none"/>
<polyline points="2.5,348.4 82.3,348.4" stroke="#008800" stroke-width="0.87" fill="none" />
<path d="M-3 345.8 H0 L2.2 348.4 L0 351 H-3" stroke="#0000ff" stroke-width="0.9" fill="none"/>
<polyline points="2.5,355.7 82.3,355.7" stroke="#008800" stroke-width="0.87" fill="none" />
<path d="M-3 353.1 H0 L2.2 355.7 L0 358.3 H-3" stroke="#0000ff" stroke-width="0.9" fill="none"/>
<polyline points="2.5,363 82.3,363" stroke="#008800" stroke-width="0.87" fill="none" />
<path d="M-3 360.4 H0 L2.2 363 L0 365.6 H-3" stroke="#0000ff" stroke-width="0.9" fill="none"/>
<polyline points="2.5,370.3 82.3,370.3" stroke="#008800" stroke-width="0.87" fill="none" />
<path d="M-3 367.7 H0 L2.2 370.3 L0 372.9 H-3" stroke="#0000ff" stroke-width="0.9" fill="none"/>
<polyline points="160.1,305 216.3,305" stroke="#008800" stroke-width="0.87" fill="none" />
<polyline points="172.7,305 172.7,291" stroke="#008800" stroke-width="0.87" fill="none" />
<polyline points="172.7,291 172.7,287" stroke="#000000" stroke-width="0.9" fill="none" />
<polyline points="165.95,287 179.45,287" stroke="#000000" stroke-width="0.9" fill="none" />
<polyline points="168.1,285.6 177.3,285.6" stroke="#000000" stroke-width="0.9" fill="none" />
<polyline points="170.1,284.2 175.3,284.2" stroke="#000000" stroke-width="0.9" fill="none" />
<polyline points="171.9,282.9 173.5,282.9" stroke="#000000" stroke-width="0.9" fill="none" />
<text x="172.7" y="280.7" font-family="Liberation Serif" font-size="8.75" fill="#000000" text-anchor="middle" stroke="#000000" stroke-width="0.22">GND</text>
<polyline points="162.4,312 198.2,312" stroke="#008800" stroke-width="0.87" fill="none" />
<polyline points="198.2,333.3 198.2,292" stroke="#008800" stroke-width="0.87" fill="none" />
<polyline points="198.2,292 198.2,287.3" stroke="#000000" stroke-width="0.9" fill="none" />
<polyline points="194.45,287.3 201.95,287.3" stroke="#000000" stroke-width="0.9" fill="none" />
<text x="198.2" y="284.7" font-family="Liberation Serif" font-size="8.75" fill="#000000" text-anchor="middle" stroke="#000000" stroke-width="0.22">VCC</text>
<polyline points="216.3,305 216.3,318" stroke="#880000" stroke-width="0.9" fill="none" />
<polyline points="210,318 222.6,318" stroke="#880000" stroke-width="1" fill="none" />
<polyline points="210,320.8 222.6,320.8" stroke="#880000" stroke-width="1" fill="none" />
<polyline points="216.3,320.8 216.3,333.3" stroke="#880000" stroke-width="0.9" fill="none" />
<polyline points="216.3,333.3 198.2,333.3" stroke="#008800" stroke-width="0.87" fill="none" />
<text x="224.2" y="321.4" font-family="Liberation Sans" font-size="6.65" fill="#000080" stroke="#000080" stroke-width="0.2">C2</text>
<text x="224.2" y="328.4" font-family="Liberation Sans" font-size="6.65" fill="#000080" stroke="#000080" stroke-width="0.2">0.1uF</text>
<polyline points="159.3,327.3 165.3,333.3" stroke="#33aa33" stroke-width="0.9" fill="none" />
<polyline points="159.3,333.3 165.3,327.3" stroke="#33aa33" stroke-width="0.9" fill="none" />
<polyline points="162.4,337.5 183.8,337.5 183.8,330" stroke="#008800" stroke-width="0.87" fill="none" />
<polyline points="183.8,330 183.8,323.4" stroke="#000000" stroke-width="0.9" fill="none" />
<polyline points="180.05,323.4 187.55,323.4" stroke="#000000" stroke-width="0.9" fill="none" />
<text x="183.8" y="320.8" font-family="Liberation Serif" font-size="8.75" fill="#000000" text-anchor="middle" stroke="#000000" stroke-width="0.22">VCC</text>
<polyline points="162.4,352.2 260,352.2 260,326.4" stroke="#008800" stroke-width="0.87" fill="none" />
<polyline points="260.2,326.4 263.85,322.8 263.85,312.3 256.55,312.3 256.55,322.8 260.2,326.4" stroke="#0000ff" stroke-width="0.9" fill="none" />
<text x="262.9" y="308.5" font-family="Liberation Serif" font-size="8.4" fill="#0000ff" transform="rotate(-90 262.9 308.5)" textLength="45.3" lengthAdjust="spacingAndGlyphs" stroke="#0000ff" stroke-width="0.25">MINUTE INC</text>
<polyline points="162.4,363 250,363" stroke="#008800" stroke-width="0.87" fill="none" />
<polyline points="250,363 257.6,363" stroke="#000000" stroke-width="0.9" fill="none" />
<polyline points="257.6,356.25 257.6,369.75" stroke="#000000" stroke-width="0.9" fill="none" />
<polyline points="259,358.4 259,367.6" stroke="#000000" stroke-width="0.9" fill="none" />
<polyline points="260.4,360.4 260.4,365.6" stroke="#000000" stroke-width="0.9" fill="none" />
<polyline points="261.7,362.2 261.7,363.8" stroke="#000000" stroke-width="0.9" fill="none" />
<text x="262" y="365.8" font-family="Liberation Serif" font-size="8.75" fill="#000000" stroke="#000000" stroke-width="0.22">GND</text>
<polyline points="162.4,370.3 172.4,370.3" stroke="#008800" stroke-width="0.87" fill="none" />
<polyline points="172.4,370.3 177,366.4 187.4,366.4 187.4,374.2 177,374.2 172.4,370.3" stroke="#0000ff" stroke-width="0.9" fill="none" />
<text x="188.8" y="372.4" font-family="Liberation Serif" font-size="8.5" fill="#0000ff" textLength="50" lengthAdjust="spacingAndGlyphs" stroke="#0000ff" stroke-width="0.22">SEC_DEC_INC</text>
<text x="-0.3" y="421.6" font-family="Liberation Sans" font-size="9.49" fill="#0000ff" textLength="49.72" lengthAdjust="spacingAndGlyphs" stroke="#0000ff" stroke-width="0.35">se Inverter</text>
<text x="2.4" y="566.2" font-family="Liberation Sans" font-size="9.49" fill="#0000ff" textLength="174.79" lengthAdjust="spacingAndGlyphs" stroke="#0000ff" stroke-width="0.35">- Resets when LED segment displays 6</text>
<rect x="-16" y="461.2" width="66.9" height="43.1" stroke="#880000" stroke-width="1" fill="none" rx="1.5"/>
<text x="53.7" y="485.1" font-family="Liberation Sans" font-size="6.65" fill="#000080" stroke="#000080" stroke-width="0.2">U8</text>
<text x="53.1" y="493.3" font-family="Liberation Sans" font-size="6.65" fill="#000080" stroke="#000080" stroke-width="0.2">74HC04</text>
<polyline points="-1.3,454.2 -1.3,461.2" stroke="#880000" stroke-width="0.9" fill="none" />
<polyline points="-1.3,504.3 -1.3,511.4" stroke="#880000" stroke-width="0.9" fill="none" />
<text x="1.3" y="464.8" font-family="Liberation Sans" font-size="6.79" fill="#ff0000" text-anchor="end" transform="rotate(-90 1.3 464.8)" textLength="15.18" lengthAdjust="spacing" stroke="#ff0000" stroke-width="0.18">VCC</text>
<text x="1.3" y="501.7" font-family="Liberation Sans" font-size="6.79" fill="#0000ff" transform="rotate(-90 1.3 501.7)" textLength="9.64" lengthAdjust="spacing" stroke="#0000ff" stroke-width="0.18">1A</text>
<text x="-2.3" y="457.8" font-family="Liberation Sans" font-size="7.3" fill="#ff0000" transform="rotate(-90 -2.3 457.8)" stroke="#ff0000" stroke-width="0.2">14</text>
<text x="-2.3" y="505.9" font-family="Liberation Sans" font-size="7.3" fill="#0000ff" text-anchor="end" transform="rotate(-90 -2.3 505.9)" stroke="#0000ff" stroke-width="0.2">1</text>
<polyline points="6,454.2 6,461.2" stroke="#880000" stroke-width="0.9" fill="none" />
<polyline points="6,504.3 6,511.4" stroke="#880000" stroke-width="0.9" fill="none" />
<text x="8.6" y="464.8" font-family="Liberation Sans" font-size="6.79" fill="#0000ff" text-anchor="end" transform="rotate(-90 8.6 464.8)" textLength="9.64" lengthAdjust="spacing" stroke="#0000ff" stroke-width="0.18">6A</text>
<text x="8.6" y="501.7" font-family="Liberation Sans" font-size="6.79" fill="#0000ff" transform="rotate(-90 8.6 501.7)" textLength="9.13" lengthAdjust="spacing" stroke="#0000ff" stroke-width="0.18">1Y</text>
<text x="5" y="457.8" font-family="Liberation Sans" font-size="7.3" fill="#0000ff" transform="rotate(-90 5 457.8)" stroke="#0000ff" stroke-width="0.2">13</text>
<text x="5" y="505.9" font-family="Liberation Sans" font-size="7.3" fill="#0000ff" text-anchor="end" transform="rotate(-90 5 505.9)" stroke="#0000ff" stroke-width="0.2">2</text>
<polyline points="13.3,454.2 13.3,461.2" stroke="#880000" stroke-width="0.9" fill="none" />
<polyline points="13.3,504.3 13.3,511.4" stroke="#880000" stroke-width="0.9" fill="none" />
<text x="15.9" y="464.8" font-family="Liberation Sans" font-size="6.79" fill="#0000ff" text-anchor="end" transform="rotate(-90 15.9 464.8)" textLength="9.13" lengthAdjust="spacing" stroke="#0000ff" stroke-width="0.18">6Y</text>
<text x="15.9" y="501.7" font-family="Liberation Sans" font-size="6.79" fill="#0000ff" transform="rotate(-90 15.9 501.7)" textLength="9.64" lengthAdjust="spacing" stroke="#0000ff" stroke-width="0.18">2A</text>
<text x="12.3" y="457.8" font-family="Liberation Sans" font-size="7.3" fill="#0000ff" transform="rotate(-90 12.3 457.8)" stroke="#0000ff" stroke-width="0.2">12</text>
<text x="12.3" y="505.9" font-family="Liberation Sans" font-size="7.3" fill="#0000ff" text-anchor="end" transform="rotate(-90 12.3 505.9)" stroke="#0000ff" stroke-width="0.2">3</text>
<polyline points="20.6,454.2 20.6,461.2" stroke="#880000" stroke-width="0.9" fill="none" />
<polyline points="20.6,504.3 20.6,511.4" stroke="#880000" stroke-width="0.9" fill="none" />
<text x="23.2" y="464.8" font-family="Liberation Sans" font-size="6.79" fill="#0000ff" text-anchor="end" transform="rotate(-90 23.2 464.8)" textLength="9.64" lengthAdjust="spacing" stroke="#0000ff" stroke-width="0.18">5A</text>
<text x="23.2" y="501.7" font-family="Liberation Sans" font-size="6.79" fill="#0000ff" transform="rotate(-90 23.2 501.7)" textLength="9.13" lengthAdjust="spacing" stroke="#0000ff" stroke-width="0.18">2Y</text>
<text x="19.6" y="457.8" font-family="Liberation Sans" font-size="7.3" fill="#0000ff" transform="rotate(-90 19.6 457.8)" stroke="#0000ff" stroke-width="0.2">11</text>
<text x="19.6" y="505.9" font-family="Liberation Sans" font-size="7.3" fill="#0000ff" text-anchor="end" transform="rotate(-90 19.6 505.9)" stroke="#0000ff" stroke-width="0.2">4</text>
<polyline points="27.9,454.2 27.9,461.2" stroke="#880000" stroke-width="0.9" fill="none" />
<polyline points="27.9,504.3 27.9,511.4" stroke="#880000" stroke-width="0.9" fill="none" />
<text x="30.5" y="464.8" font-family="Liberation Sans" font-size="6.79" fill="#0000ff" text-anchor="end" transform="rotate(-90 30.5 464.8)" textLength="9.13" lengthAdjust="spacing" stroke="#0000ff" stroke-width="0.18">5Y</text>
<text x="30.5" y="501.7" font-family="Liberation Sans" font-size="6.79" fill="#0000ff" transform="rotate(-90 30.5 501.7)" textLength="9.64" lengthAdjust="spacing" stroke="#0000ff" stroke-width="0.18">3A</text>
<text x="26.9" y="457.8" font-family="Liberation Sans" font-size="7.3" fill="#0000ff" transform="rotate(-90 26.9 457.8)" stroke="#0000ff" stroke-width="0.2">10</text>
<text x="26.9" y="505.9" font-family="Liberation Sans" font-size="7.3" fill="#0000ff" text-anchor="end" transform="rotate(-90 26.9 505.9)" stroke="#0000ff" stroke-width="0.2">5</text>
<polyline points="35.2,454.2 35.2,461.2" stroke="#880000" stroke-width="0.9" fill="none" />
<polyline points="35.2,504.3 35.2,511.4" stroke="#880000" stroke-width="0.9" fill="none" />
<text x="37.8" y="464.8" font-family="Liberation Sans" font-size="6.79" fill="#0000ff" text-anchor="end" transform="rotate(-90 37.8 464.8)" textLength="9.64" lengthAdjust="spacing" stroke="#0000ff" stroke-width="0.18">4A</text>
<text x="37.8" y="501.7" font-family="Liberation Sans" font-size="6.79" fill="#0000ff" transform="rotate(-90 37.8 501.7)" textLength="9.13" lengthAdjust="spacing" stroke="#0000ff" stroke-width="0.18">3Y</text>
<text x="34.2" y="457.8" font-family="Liberation Sans" font-size="7.3" fill="#0000ff" transform="rotate(-90 34.2 457.8)" stroke="#0000ff" stroke-width="0.2">9</text>
<text x="34.2" y="505.9" font-family="Liberation Sans" font-size="7.3" fill="#0000ff" text-anchor="end" transform="rotate(-90 34.2 505.9)" stroke="#0000ff" stroke-width="0.2">6</text>
<polyline points="42.5,454.2 42.5,461.2" stroke="#880000" stroke-width="0.9" fill="none" />
<polyline points="42.5,504.3 42.5,511.4" stroke="#880000" stroke-width="0.9" fill="none" />
<text x="45.1" y="464.8" font-family="Liberation Sans" font-size="6.79" fill="#0000ff" text-anchor="end" transform="rotate(-90 45.1 464.8)" textLength="9.13" lengthAdjust="spacing" stroke="#0000ff" stroke-width="0.18">4Y</text>
<text x="45.1" y="501.7" font-family="Liberation Sans" font-size="6.79" fill="#000000" transform="rotate(-90 45.1 501.7)" textLength="16.75" lengthAdjust="spacing" stroke="#000000" stroke-width="0.18">GND</text>
<text x="41.5" y="457.8" font-family="Liberation Sans" font-size="7.3" fill="#0000ff" transform="rotate(-90 41.5 457.8)" stroke="#0000ff" stroke-width="0.2">8</text>
<text x="41.5" y="505.9" font-family="Liberation Sans" font-size="7.3" fill="#000000" text-anchor="end" transform="rotate(-90 41.5 505.9)" stroke="#000000" stroke-width="0.2">7</text>
<rect x="-13.1" y="500.2" width="1.6" height="1.3" fill="#880000"/>
<polyline points="6,454.2 9.55,449.2 9.55,439.2 2.45,439.2 2.45,449.2 6,454.2" stroke="#0000ff" stroke-width="0.9" fill="none" />
<text x="8.8" y="437.6" font-family="Liberation Serif" font-size="8.3" fill="#0000ff" transform="rotate(-90 8.8 437.6)" textLength="10.9" lengthAdjust="spacingAndGlyphs" stroke="#0000ff" stroke-width="0.22">I4A</text>
<polyline points="13.3,454.2 16.85,449.2 16.85,439.2 9.75,439.2 9.75,449.2 13.3,454.2" stroke="#0000ff" stroke-width="0.9" fill="none" />
<text x="16.1" y="437.6" font-family="Liberation Serif" font-size="8.3" fill="#0000ff" transform="rotate(-90 16.1 437.6)" textLength="10.9" lengthAdjust="spacingAndGlyphs" stroke="#0000ff" stroke-width="0.22">I4B</text>
<polyline points="20.6,454.2 24.15,449.2 24.15,439.2 17.05,439.2 17.05,449.2 20.6,454.2" stroke="#0000ff" stroke-width="0.9" fill="none" />
<text x="23.4" y="437.6" font-family="Liberation Serif" font-size="8.3" fill="#0000ff" transform="rotate(-90 23.4 437.6)" textLength="10.9" lengthAdjust="spacingAndGlyphs" stroke="#0000ff" stroke-width="0.22">I5A</text>
<polyline points="27.9,454.2 31.45,449.2 31.45,439.2 24.35,439.2 24.35,449.2 27.9,454.2" stroke="#0000ff" stroke-width="0.9" fill="none" />
<text x="30.7" y="437.6" font-family="Liberation Serif" font-size="8.3" fill="#0000ff" transform="rotate(-90 30.7 437.6)" textLength="10.9" lengthAdjust="spacingAndGlyphs" stroke="#0000ff" stroke-width="0.22">I5B</text>
<polyline points="35.2,454.2 38.75,449.2 38.75,439.2 31.65,439.2 31.65,449.2 35.2,454.2" stroke="#0000ff" stroke-width="0.9" fill="none" />
<text x="38" y="437.6" font-family="Liberation Serif" font-size="8.3" fill="#0000ff" transform="rotate(-90 38 437.6)" textLength="10.9" lengthAdjust="spacingAndGlyphs" stroke="#0000ff" stroke-width="0.22">I6A</text>
<polyline points="42.5,454.2 46.05,449.2 46.05,439.2 38.95,439.2 38.95,449.2 42.5,454.2" stroke="#0000ff" stroke-width="0.9" fill="none" />
<text x="45.3" y="437.6" font-family="Liberation Serif" font-size="8.3" fill="#0000ff" transform="rotate(-90 45.3 437.6)" textLength="10.9" lengthAdjust="spacingAndGlyphs" stroke="#0000ff" stroke-width="0.22">I6B</text>
<polyline points="-1.3,511.4 2.25,516.4 2.25,525.6 -4.85,525.6 -4.85,516.4 -1.3,511.4" stroke="#0000ff" stroke-width="0.9" fill="none" />
<text x="1.5" y="528" font-family="Liberation Serif" font-size="8.3" fill="#0000ff" text-anchor="end" transform="rotate(-90 1.5 528)" textLength="10.9" lengthAdjust="spacingAndGlyphs" stroke="#0000ff" stroke-width="0.22">I1A</text>
<polyline points="6,511.4 9.55,516.4 9.55,525.6 2.45,525.6 2.45,516.4 6,511.4" stroke="#0000ff" stroke-width="0.9" fill="none" />
<text x="8.8" y="528" font-family="Liberation Serif" font-size="8.3" fill="#0000ff" text-anchor="end" transform="rotate(-90 8.8 528)" textLength="10.9" lengthAdjust="spacingAndGlyphs" stroke="#0000ff" stroke-width="0.22">I1B</text>
<polyline points="13.3,511.4 16.85,516.4 16.85,525.6 9.75,525.6 9.75,516.4 13.3,511.4" stroke="#0000ff" stroke-width="0.9" fill="none" />
<text x="16.1" y="528" font-family="Liberation Serif" font-size="8.3" fill="#0000ff" text-anchor="end" transform="rotate(-90 16.1 528)" textLength="10.9" lengthAdjust="spacingAndGlyphs" stroke="#0000ff" stroke-width="0.22">I2A</text>
<polyline points="20.6,511.4 24.15,516.4 24.15,525.6 17.05,525.6 17.05,516.4 20.6,511.4" stroke="#0000ff" stroke-width="0.9" fill="none" />
<text x="23.4" y="528" font-family="Liberation Serif" font-size="8.3" fill="#0000ff" text-anchor="end" transform="rotate(-90 23.4 528)" textLength="10.9" lengthAdjust="spacingAndGlyphs" stroke="#0000ff" stroke-width="0.22">I2B</text>
<polyline points="27.9,511.4 31.45,516.4 31.45,525.6 24.35,525.6 24.35,516.4 27.9,511.4" stroke="#0000ff" stroke-width="0.9" fill="none" />
<text x="30.7" y="528" font-family="Liberation Serif" font-size="8.3" fill="#0000ff" text-anchor="end" transform="rotate(-90 30.7 528)" textLength="10.9" lengthAdjust="spacingAndGlyphs" stroke="#0000ff" stroke-width="0.22">I3A</text>
<polyline points="35.2,511.4 38.75,516.4 38.75,525.6 31.65,525.6 31.65,516.4 35.2,511.4" stroke="#0000ff" stroke-width="0.9" fill="none" />
<text x="38" y="528" font-family="Liberation Serif" font-size="8.3" fill="#0000ff" text-anchor="end" transform="rotate(-90 38 528)" textLength="10.9" lengthAdjust="spacingAndGlyphs" stroke="#0000ff" stroke-width="0.22">I3B</text>
<polyline points="42.5,511.4 42.5,537.5" stroke="#008800" stroke-width="0.87" fill="none" />
<polyline points="42.5,537.5 42.5,544.5" stroke="#000000" stroke-width="0.9" fill="none" />
<polyline points="35.75,544.5 49.25,544.5" stroke="#000000" stroke-width="0.9" fill="none" />
<polyline points="37.9,545.9 47.1,545.9" stroke="#000000" stroke-width="0.9" fill="none" />
<polyline points="39.9,547.3 45.1,547.3" stroke="#000000" stroke-width="0.9" fill="none" />
<polyline points="41.7,548.6 43.3,548.6" stroke="#000000" stroke-width="0.9" fill="none" />
<text x="42.5" y="555.2" font-family="Liberation Serif" font-size="8.75" fill="#000000" text-anchor="middle" stroke="#000000" stroke-width="0.22">GND</text>
<rect x="102.5" y="461.2" width="61.3" height="43.1" stroke="#880000" stroke-width="1" fill="none" rx="1.5"/>
<text x="166.3" y="485.1" font-family="Liberation Sans" font-size="6.65" fill="#000080" stroke="#000080" stroke-width="0.2">U6</text>
<text x="165.7" y="493.3" font-family="Liberation Sans" font-size="6.65" fill="#000080" stroke="#000080" stroke-width="0.2">74HC08</text>
<polyline points="111.3,454.2 111.3,461.2" stroke="#880000" stroke-width="0.9" fill="none" />
<polyline points="111.3,504.3 111.3,511.4" stroke="#880000" stroke-width="0.9" fill="none" />
<text x="113.9" y="464.8" font-family="Liberation Sans" font-size="6.79" fill="#ff0000" text-anchor="end" transform="rotate(-90 113.9 464.8)" textLength="15.18" lengthAdjust="spacing" stroke="#ff0000" stroke-width="0.18">VCC</text>
<text x="113.9" y="501.7" font-family="Liberation Sans" font-size="6.79" fill="#0000ff" transform="rotate(-90 113.9 501.7)" textLength="9.64" lengthAdjust="spacing" stroke="#0000ff" stroke-width="0.18">1A</text>
<text x="110.3" y="457.8" font-family="Liberation Sans" font-size="7.3" fill="#ff0000" transform="rotate(-90 110.3 457.8)" stroke="#ff0000" stroke-width="0.2">14</text>
<text x="110.3" y="505.9" font-family="Liberation Sans" font-size="7.3" fill="#0000ff" text-anchor="end" transform="rotate(-90 110.3 505.9)" stroke="#0000ff" stroke-width="0.2">1</text>
<polyline points="118.6,454.2 118.6,461.2" stroke="#880000" stroke-width="0.9" fill="none" />
<polyline points="118.6,504.3 118.6,511.4" stroke="#880000" stroke-width="0.9" fill="none" />
<text x="121.2" y="464.8" font-family="Liberation Sans" font-size="6.79" fill="#0000ff" text-anchor="end" transform="rotate(-90 121.2 464.8)" textLength="9.65" lengthAdjust="spacing" stroke="#0000ff" stroke-width="0.18">4B</text>
<text x="121.2" y="501.7" font-family="Liberation Sans" font-size="6.79" fill="#0000ff" transform="rotate(-90 121.2 501.7)" textLength="9.65" lengthAdjust="spacing" stroke="#0000ff" stroke-width="0.18">1B</text>
<text x="117.6" y="457.8" font-family="Liberation Sans" font-size="7.3" fill="#0000ff" transform="rotate(-90 117.6 457.8)" stroke="#0000ff" stroke-width="0.2">13</text>
<text x="117.6" y="505.9" font-family="Liberation Sans" font-size="7.3" fill="#0000ff" text-anchor="end" transform="rotate(-90 117.6 505.9)" stroke="#0000ff" stroke-width="0.2">2</text>
<polyline points="125.9,454.2 125.9,461.2" stroke="#880000" stroke-width="0.9" fill="none" />
<polyline points="125.9,504.3 125.9,511.4" stroke="#880000" stroke-width="0.9" fill="none" />
<text x="128.5" y="464.8" font-family="Liberation Sans" font-size="6.79" fill="#0000ff" text-anchor="end" transform="rotate(-90 128.5 464.8)" textLength="9.64" lengthAdjust="spacing" stroke="#0000ff" stroke-width="0.18">4A</text>
<text x="128.5" y="501.7" font-family="Liberation Sans" font-size="6.79" fill="#0000ff" transform="rotate(-90 128.5 501.7)" textLength="9.13" lengthAdjust="spacing" stroke="#0000ff" stroke-width="0.18">1Y</text>
<text x="124.9" y="457.8" font-family="Liberation Sans" font-size="7.3" fill="#0000ff" transform="rotate(-90 124.9 457.8)" stroke="#0000ff" stroke-width="0.2">12</text>
<text x="124.9" y="505.9" font-family="Liberation Sans" font-size="7.3" fill="#0000ff" text-anchor="end" transform="rotate(-90 124.9 505.9)" stroke="#0000ff" stroke-width="0.2">3</text>
<polyline points="133.2,454.2 133.2,461.2" stroke="#880000" stroke-width="0.9" fill="none" />
<polyline points="133.2,504.3 133.2,511.4" stroke="#880000" stroke-width="0.9" fill="none" />
<text x="135.8" y="464.8" font-family="Liberation Sans" font-size="6.79" fill="#0000ff" text-anchor="end" transform="rotate(-90 135.8 464.8)" textLength="9.13" lengthAdjust="spacing" stroke="#0000ff" stroke-width="0.18">4Y</text>
<text x="135.8" y="501.7" font-family="Liberation Sans" font-size="6.79" fill="#0000ff" transform="rotate(-90 135.8 501.7)" textLength="9.64" lengthAdjust="spacing" stroke="#0000ff" stroke-width="0.18">2A</text>
<text x="132.2" y="457.8" font-family="Liberation Sans" font-size="7.3" fill="#0000ff" transform="rotate(-90 132.2 457.8)" stroke="#0000ff" stroke-width="0.2">11</text>
<text x="132.2" y="505.9" font-family="Liberation Sans" font-size="7.3" fill="#0000ff" text-anchor="end" transform="rotate(-90 132.2 505.9)" stroke="#0000ff" stroke-width="0.2">4</text>
<polyline points="140.5,454.2 140.5,461.2" stroke="#880000" stroke-width="0.9" fill="none" />
<polyline points="140.5,504.3 140.5,511.4" stroke="#880000" stroke-width="0.9" fill="none" />
<text x="143.1" y="464.8" font-family="Liberation Sans" font-size="6.79" fill="#0000ff" text-anchor="end" transform="rotate(-90 143.1 464.8)" textLength="9.65" lengthAdjust="spacing" stroke="#0000ff" stroke-width="0.18">3B</text>
<text x="143.1" y="501.7" font-family="Liberation Sans" font-size="6.79" fill="#0000ff" transform="rotate(-90 143.1 501.7)" textLength="9.65" lengthAdjust="spacing" stroke="#0000ff" stroke-width="0.18">2B</text>
<text x="139.5" y="457.8" font-family="Liberation Sans" font-size="7.3" fill="#0000ff" transform="rotate(-90 139.5 457.8)" stroke="#0000ff" stroke-width="0.2">10</text>
<text x="139.5" y="505.9" font-family="Liberation Sans" font-size="7.3" fill="#0000ff" text-anchor="end" transform="rotate(-90 139.5 505.9)" stroke="#0000ff" stroke-width="0.2">5</text>
<polyline points="147.8,454.2 147.8,461.2" stroke="#880000" stroke-width="0.9" fill="none" />
<polyline points="147.8,504.3 147.8,511.4" stroke="#880000" stroke-width="0.9" fill="none" />
<text x="150.4" y="464.8" font-family="Liberation Sans" font-size="6.79" fill="#0000ff" text-anchor="end" transform="rotate(-90 150.4 464.8)" textLength="9.64" lengthAdjust="spacing" stroke="#0000ff" stroke-width="0.18">3A</text>
<text x="150.4" y="501.7" font-family="Liberation Sans" font-size="6.79" fill="#0000ff" transform="rotate(-90 150.4 501.7)" textLength="9.13" lengthAdjust="spacing" stroke="#0000ff" stroke-width="0.18">2Y</text>
<text x="146.8" y="457.8" font-family="Liberation Sans" font-size="7.3" fill="#0000ff" transform="rotate(-90 146.8 457.8)" stroke="#0000ff" stroke-width="0.2">9</text>
<text x="146.8" y="505.9" font-family="Liberation Sans" font-size="7.3" fill="#0000ff" text-anchor="end" transform="rotate(-90 146.8 505.9)" stroke="#0000ff" stroke-width="0.2">6</text>
<polyline points="155.1,454.2 155.1,461.2" stroke="#880000" stroke-width="0.9" fill="none" />
<polyline points="155.1,504.3 155.1,511.4" stroke="#880000" stroke-width="0.9" fill="none" />
<text x="157.7" y="464.8" font-family="Liberation Sans" font-size="6.79" fill="#0000ff" text-anchor="end" transform="rotate(-90 157.7 464.8)" textLength="9.13" lengthAdjust="spacing" stroke="#0000ff" stroke-width="0.18">3Y</text>
<text x="157.7" y="501.7" font-family="Liberation Sans" font-size="6.79" fill="#000000" transform="rotate(-90 157.7 501.7)" textLength="16.75" lengthAdjust="spacing" stroke="#000000" stroke-width="0.18">GND</text>
<text x="154.1" y="457.8" font-family="Liberation Sans" font-size="7.3" fill="#0000ff" transform="rotate(-90 154.1 457.8)" stroke="#0000ff" stroke-width="0.2">8</text>
<text x="154.1" y="505.9" font-family="Liberation Sans" font-size="7.3" fill="#000000" text-anchor="end" transform="rotate(-90 154.1 505.9)" stroke="#000000" stroke-width="0.2">7</text>
<rect x="105.4" y="500.2" width="1.6" height="1.3" fill="#880000"/>
<polyline points="111.3,511.4 114.85,516.4 114.85,525.6 107.75,525.6 107.75,516.4 111.3,511.4" stroke="#0000ff" stroke-width="0.9" fill="none" />
<text x="113.9" y="528.6" font-family="Liberation Sans" font-size="7.3" fill="#0000ff" text-anchor="end" transform="rotate(-90 113.9 528.6)" stroke="#0000ff" stroke-width="0.2">SA</text>
<polyline points="118.6,511.4 122.15,516.4 122.15,525.6 115.05,525.6 115.05,516.4 118.6,511.4" stroke="#0000ff" stroke-width="0.9" fill="none" />
<text x="121.4" y="528" font-family="Liberation Serif" font-size="8.3" fill="#0000ff" text-anchor="end" transform="rotate(-90 121.4 528)" textLength="10.9" lengthAdjust="spacingAndGlyphs" stroke="#0000ff" stroke-width="0.22">I1B</text>
<polyline points="125.9,511.4 125.9,522.6 133.2,522.6 133.2,511.4" stroke="#008800" stroke-width="0.87" fill="none" />
<polyline points="140.5,511.4 144.05,516.4 144.05,525.6 136.95,525.6 136.95,516.4 140.5,511.4" stroke="#0000ff" stroke-width="0.9" fill="none" />
<text x="143.1" y="528.6" font-family="Liberation Sans" font-size="7.3" fill="#0000ff" text-anchor="end" transform="rotate(-90 143.1 528.6)" stroke="#0000ff" stroke-width="0.2">SC</text>
<polyline points="155.1,511.4 155.1,533.8" stroke="#000000" stroke-width="0.9" fill="none" />
<polyline points="148.35,533.8 161.85,533.8" stroke="#000000" stroke-width="0.9" fill="none" />
<polyline points="150.5,535.2 159.7,535.2" stroke="#000000" stroke-width="0.9" fill="none" />
<polyline points="152.5,536.6 157.7,536.6" stroke="#000000" stroke-width="0.9" fill="none" />
<polyline points="154.3,537.9 155.9,537.9" stroke="#000000" stroke-width="0.9" fill="none" />
<text x="155.1" y="545.2" font-family="Liberation Serif" font-size="8.75" fill="#000000" text-anchor="middle" stroke="#000000" stroke-width="0.22">GND</text>
<rect x="204.5" y="461.2" width="60.5" height="43.1" stroke="#880000" stroke-width="1" fill="none" rx="1.5"/>
<text x="267" y="485.1" font-family="Liberation Sans" font-size="6.65" fill="#000080" stroke="#000080" stroke-width="0.2">U7</text>
<text x="266.4" y="493.3" font-family="Liberation Sans" font-size="6.65" fill="#000080" stroke="#000080" stroke-width="0.2">74HC08</text>
<polyline points="212.5,454.2 212.5,461.2" stroke="#880000" stroke-width="0.9" fill="none" />
<polyline points="212.5,504.3 212.5,511.4" stroke="#880000" stroke-width="0.9" fill="none" />
<text x="215.1" y="464.8" font-family="Liberation Sans" font-size="6.79" fill="#ff0000" text-anchor="end" transform="rotate(-90 215.1 464.8)" textLength="15.18" lengthAdjust="spacing" stroke="#ff0000" stroke-width="0.18">VCC</text>
<text x="215.1" y="501.7" font-family="Liberation Sans" font-size="6.79" fill="#0000ff" transform="rotate(-90 215.1 501.7)" textLength="9.64" lengthAdjust="spacing" stroke="#0000ff" stroke-width="0.18">1A</text>
<text x="211.5" y="457.8" font-family="Liberation Sans" font-size="7.3" fill="#ff0000" transform="rotate(-90 211.5 457.8)" stroke="#ff0000" stroke-width="0.2">14</text>
<text x="211.5" y="505.9" font-family="Liberation Sans" font-size="7.3" fill="#0000ff" text-anchor="end" transform="rotate(-90 211.5 505.9)" stroke="#0000ff" stroke-width="0.2">1</text>
<polyline points="219.8,454.2 219.8,461.2" stroke="#880000" stroke-width="0.9" fill="none" />
<polyline points="219.8,504.3 219.8,511.4" stroke="#880000" stroke-width="0.9" fill="none" />
<text x="222.4" y="464.8" font-family="Liberation Sans" font-size="6.79" fill="#0000ff" text-anchor="end" transform="rotate(-90 222.4 464.8)" textLength="9.65" lengthAdjust="spacing" stroke="#0000ff" stroke-width="0.18">4B</text>
<text x="222.4" y="501.7" font-family="Liberation Sans" font-size="6.79" fill="#0000ff" transform="rotate(-90 222.4 501.7)" textLength="9.65" lengthAdjust="spacing" stroke="#0000ff" stroke-width="0.18">1B</text>
<text x="218.8" y="457.8" font-family="Liberation Sans" font-size="7.3" fill="#0000ff" transform="rotate(-90 218.8 457.8)" stroke="#0000ff" stroke-width="0.2">13</text>
<text x="218.8" y="505.9" font-family="Liberation Sans" font-size="7.3" fill="#0000ff" text-anchor="end" transform="rotate(-90 218.8 505.9)" stroke="#0000ff" stroke-width="0.2">2</text>
<polyline points="227.1,454.2 227.1,461.2" stroke="#880000" stroke-width="0.9" fill="none" />
<polyline points="227.1,504.3 227.1,511.4" stroke="#880000" stroke-width="0.9" fill="none" />
<text x="229.7" y="464.8" font-family="Liberation Sans" font-size="6.79" fill="#0000ff" text-anchor="end" transform="rotate(-90 229.7 464.8)" textLength="9.64" lengthAdjust="spacing" stroke="#0000ff" stroke-width="0.18">4A</text>
<text x="229.7" y="501.7" font-family="Liberation Sans" font-size="6.79" fill="#0000ff" transform="rotate(-90 229.7 501.7)" textLength="9.13" lengthAdjust="spacing" stroke="#0000ff" stroke-width="0.18">1Y</text>
<text x="226.1" y="457.8" font-family="Liberation Sans" font-size="7.3" fill="#0000ff" transform="rotate(-90 226.1 457.8)" stroke="#0000ff" stroke-width="0.2">12</text>
<text x="226.1" y="505.9" font-family="Liberation Sans" font-size="7.3" fill="#0000ff" text-anchor="end" transform="rotate(-90 226.1 505.9)" stroke="#0000ff" stroke-width="0.2">3</text>
<polyline points="234.4,454.2 234.4,461.2" stroke="#880000" stroke-width="0.9" fill="none" />
<polyline points="234.4,504.3 234.4,511.4" stroke="#880000" stroke-width="0.9" fill="none" />
<text x="237" y="464.8" font-family="Liberation Sans" font-size="6.79" fill="#0000ff" text-anchor="end" transform="rotate(-90 237 464.8)" textLength="9.13" lengthAdjust="spacing" stroke="#0000ff" stroke-width="0.18">4Y</text>
<text x="237" y="501.7" font-family="Liberation Sans" font-size="6.79" fill="#0000ff" transform="rotate(-90 237 501.7)" textLength="9.64" lengthAdjust="spacing" stroke="#0000ff" stroke-width="0.18">2A</text>
<text x="233.4" y="457.8" font-family="Liberation Sans" font-size="7.3" fill="#0000ff" transform="rotate(-90 233.4 457.8)" stroke="#0000ff" stroke-width="0.2">11</text>
<text x="233.4" y="505.9" font-family="Liberation Sans" font-size="7.3" fill="#0000ff" text-anchor="end" transform="rotate(-90 233.4 505.9)" stroke="#0000ff" stroke-width="0.2">4</text>
<polyline points="241.7,454.2 241.7,461.2" stroke="#880000" stroke-width="0.9" fill="none" />
<polyline points="241.7,504.3 241.7,511.4" stroke="#880000" stroke-width="0.9" fill="none" />
<text x="244.3" y="464.8" font-family="Liberation Sans" font-size="6.79" fill="#0000ff" text-anchor="end" transform="rotate(-90 244.3 464.8)" textLength="9.65" lengthAdjust="spacing" stroke="#0000ff" stroke-width="0.18">3B</text>
<text x="244.3" y="501.7" font-family="Liberation Sans" font-size="6.79" fill="#0000ff" transform="rotate(-90 244.3 501.7)" textLength="9.65" lengthAdjust="spacing" stroke="#0000ff" stroke-width="0.18">2B</text>
<text x="240.7" y="457.8" font-family="Liberation Sans" font-size="7.3" fill="#0000ff" transform="rotate(-90 240.7 457.8)" stroke="#0000ff" stroke-width="0.2">10</text>
<text x="240.7" y="505.9" font-family="Liberation Sans" font-size="7.3" fill="#0000ff" text-anchor="end" transform="rotate(-90 240.7 505.9)" stroke="#0000ff" stroke-width="0.2">5</text>
<polyline points="249,454.2 249,461.2" stroke="#880000" stroke-width="0.9" fill="none" />
<polyline points="249,504.3 249,511.4" stroke="#880000" stroke-width="0.9" fill="none" />
<text x="251.6" y="464.8" font-family="Liberation Sans" font-size="6.79" fill="#0000ff" text-anchor="end" transform="rotate(-90 251.6 464.8)" textLength="9.64" lengthAdjust="spacing" stroke="#0000ff" stroke-width="0.18">3A</text>
<text x="251.6" y="501.7" font-family="Liberation Sans" font-size="6.79" fill="#0000ff" transform="rotate(-90 251.6 501.7)" textLength="9.13" lengthAdjust="spacing" stroke="#0000ff" stroke-width="0.18">2Y</text>
<text x="248" y="457.8" font-family="Liberation Sans" font-size="7.3" fill="#0000ff" transform="rotate(-90 248 457.8)" stroke="#0000ff" stroke-width="0.2">9</text>
<text x="248" y="505.9" font-family="Liberation Sans" font-size="7.3" fill="#0000ff" text-anchor="end" transform="rotate(-90 248 505.9)" stroke="#0000ff" stroke-width="0.2">6</text>
<polyline points="256.3,454.2 256.3,461.2" stroke="#880000" stroke-width="0.9" fill="none" />
<polyline points="256.3,504.3 256.3,511.4" stroke="#880000" stroke-width="0.9" fill="none" />
<text x="258.9" y="464.8" font-family="Liberation Sans" font-size="6.79" fill="#0000ff" text-anchor="end" transform="rotate(-90 258.9 464.8)" textLength="9.13" lengthAdjust="spacing" stroke="#0000ff" stroke-width="0.18">3Y</text>
<text x="258.9" y="501.7" font-family="Liberation Sans" font-size="6.79" fill="#000000" transform="rotate(-90 258.9 501.7)" textLength="16.75" lengthAdjust="spacing" stroke="#000000" stroke-width="0.18">GND</text>
<text x="255.3" y="457.8" font-family="Liberation Sans" font-size="7.3" fill="#0000ff" transform="rotate(-90 255.3 457.8)" stroke="#0000ff" stroke-width="0.2">8</text>
<text x="255.3" y="505.9" font-family="Liberation Sans" font-size="7.3" fill="#000000" text-anchor="end" transform="rotate(-90 255.3 505.9)" stroke="#000000" stroke-width="0.2">7</text>
<rect x="207.4" y="500.2" width="1.6" height="1.3" fill="#880000"/>
<polyline points="147.8,511.4 147.8,522.6 212.5,522.6 212.5,511.4" stroke="#008800" stroke-width="0.87" fill="none" />
<polyline points="219.8,511.4 223.35,516.4 223.35,525.6 216.25,525.6 216.25,516.4 219.8,511.4" stroke="#0000ff" stroke-width="0.9" fill="none" />
<text x="222.4" y="528.6" font-family="Liberation Sans" font-size="7.3" fill="#0000ff" text-anchor="end" transform="rotate(-90 222.4 528.6)" stroke="#0000ff" stroke-width="0.2">SD</text>
<polyline points="227.1,511.4 227.1,522.6 234.4,522.6 234.4,511.4" stroke="#008800" stroke-width="0.87" fill="none" />
<polyline points="241.7,511.4 245.25,516.4 245.25,525.6 238.15,525.6 238.15,516.4 241.7,511.4" stroke="#0000ff" stroke-width="0.9" fill="none" />
<text x="244.3" y="528.6" font-family="Liberation Sans" font-size="7.3" fill="#0000ff" text-anchor="end" transform="rotate(-90 244.3 528.6)" stroke="#0000ff" stroke-width="0.2">SE</text>
<polyline points="249,511.4 249,522.6 296.3,522.6 296.3,438.8 249,438.8 249,454.2" stroke="#008800" stroke-width="0.87" fill="none" />
<polyline points="256.3,511.4 256.3,533.8" stroke="#000000" stroke-width="0.9" fill="none" />
<polyline points="249.55,533.8 263.05,533.8" stroke="#000000" stroke-width="0.9" fill="none" />
<polyline points="251.7,535.2 260.9,535.2" stroke="#000000" stroke-width="0.9" fill="none" />
<polyline points="253.7,536.6 258.9,536.6" stroke="#000000" stroke-width="0.9" fill="none" />
<polyline points="255.5,537.9 257.1,537.9" stroke="#000000" stroke-width="0.9" fill="none" />
<text x="256.3" y="545.2" font-family="Liberation Serif" font-size="8.75" fill="#000000" text-anchor="middle" stroke="#000000" stroke-width="0.22">GND</text>
<polyline points="111.3,454.2 111.3,435.7" stroke="#008800" stroke-width="0.87" fill="none" />
<polyline points="111.3,435.7 111.3,428.4" stroke="#000000" stroke-width="0.9" fill="none" />
<polyline points="107.55,428.4 115.05,428.4" stroke="#000000" stroke-width="0.9" fill="none" />
<text x="111.3" y="426.3" font-family="Liberation Serif" font-size="8.75" fill="#000000" text-anchor="middle" stroke="#000000" stroke-width="0.22">VCC</text>
<polyline points="118.6,454.2 118.6,432" stroke="#008800" stroke-width="0.87" fill="none" />
<polyline points="125.9,454.2 125.9,432" stroke="#008800" stroke-width="0.87" fill="none" />
<polyline points="140.5,454.2 140.5,432" stroke="#008800" stroke-width="0.87" fill="none" />
<polyline points="147.8,454.2 147.8,432" stroke="#008800" stroke-width="0.87" fill="none" />
<polyline points="118.6,432 151,432" stroke="#008800" stroke-width="0.87" fill="none" />
<polyline points="151,432 151,425" stroke="#000000" stroke-width="0.9" fill="none" />
<polyline points="144.25,425 157.75,425" stroke="#000000" stroke-width="0.9" fill="none" />
<polyline points="146.4,423.6 155.6,423.6" stroke="#000000" stroke-width="0.9" fill="none" />
<polyline points="148.4,422.2 153.6,422.2" stroke="#000000" stroke-width="0.9" fill="none" />
<polyline points="150.2,420.9 151.8,420.9" stroke="#000000" stroke-width="0.9" fill="none" />
<text x="151.2" y="418.4" font-family="Liberation Serif" font-size="8.75" fill="#000000" text-anchor="middle" stroke="#000000" stroke-width="0.22">GND</text>
<polyline points="212.5,454.2 212.5,428.9" stroke="#008800" stroke-width="0.87" fill="none" />
<polyline points="212.5,428.9 212.5,422.2" stroke="#000000" stroke-width="0.9" fill="none" />
<polyline points="208.75,422.2 216.25,422.2" stroke="#000000" stroke-width="0.9" fill="none" />
<text x="214.9" y="421.3" font-family="Liberation Serif" font-size="8.75" fill="#000000" text-anchor="middle" stroke="#000000" stroke-width="0.22">VCC</text>
<polyline points="219.8,454.2 223.35,449.2 223.35,440 216.25,440 216.25,449.2 219.8,454.2" stroke="#0000ff" stroke-width="0.9" fill="none" />
<text x="222.4" y="436" font-family="Liberation Sans" font-size="7.3" fill="#0000ff" transform="rotate(-90 222.4 436)" stroke="#0000ff" stroke-width="0.2">SG</text>
<polyline points="227.1,454.2 227.1,428.8 256.3,428.8 256.3,454.2" stroke="#008800" stroke-width="0.87" fill="none" />
<polyline points="234.6,352.2 234.6,454.2" stroke="#008800" stroke-width="0.87" fill="none" />
<polyline points="241.7,454.2 245.25,449.2 245.25,440 238.15,440 238.15,449.2 241.7,454.2" stroke="#0000ff" stroke-width="0.9" fill="none" />
<text x="244.3" y="436" font-family="Liberation Sans" font-size="7.3" fill="#0000ff" transform="rotate(-90 244.3 436)" stroke="#0000ff" stroke-width="0.2">SF</text>
<rect x="462.5" y="265.8" width="30.1" height="50.7" stroke="#880000" stroke-width="1.5" fill="none" rx="1.2"/>
<text x="468.3" y="256.1" font-family="Liberation Sans" font-size="6.65" fill="#000080" stroke="#000080" stroke-width="0.2">LED3</text>
<text x="468.3" y="261.7" font-family="Liberation Sans" font-size="6.65" fill="#000080" stroke="#000080" stroke-width="0.2">7-SEG-SC56-11</text>
<polyline points="456.5,269.5 462.5,269.5" stroke="#880000" stroke-width="0.9" fill="none" />
<text x="466.6" y="271" font-family="Liberation Sans" font-size="4.2" fill="#880000" text-anchor="middle">A</text>
<text x="458.9" y="268.6" font-family="Liberation Sans" font-size="3.2" fill="#aa4444" text-anchor="middle">7</text>
<polyline points="456.5,276.7 462.5,276.7" stroke="#880000" stroke-width="0.9" fill="none" />
<text x="466.6" y="278.2" font-family="Liberation Sans" font-size="4.2" fill="#880000" text-anchor="middle">B</text>
<text x="458.9" y="275.8" font-family="Liberation Sans" font-size="3.2" fill="#aa4444" text-anchor="middle">6</text>
<polyline points="456.5,283.9 462.5,283.9" stroke="#880000" stroke-width="0.9" fill="none" />
<text x="466.6" y="285.4" font-family="Liberation Sans" font-size="4.2" fill="#880000" text-anchor="middle">C</text>
<text x="458.9" y="283" font-family="Liberation Sans" font-size="3.2" fill="#aa4444" text-anchor="middle">4</text>
<polyline points="456.5,291.1 462.5,291.1" stroke="#880000" stroke-width="0.9" fill="none" />
<text x="466.6" y="292.6" font-family="Liberation Sans" font-size="4.2" fill="#880000" text-anchor="middle">D</text>
<text x="458.9" y="290.2" font-family="Liberation Sans" font-size="3.2" fill="#aa4444" text-anchor="middle">2</text>
<polyline points="456.5,298.3 462.5,298.3" stroke="#880000" stroke-width="0.9" fill="none" />
<text x="466.6" y="299.8" font-family="Liberation Sans" font-size="4.2" fill="#880000" text-anchor="middle">E</text>
<text x="458.9" y="297.4" font-family="Liberation Sans" font-size="3.2" fill="#aa4444" text-anchor="middle">1</text>
<polyline points="456.5,305.5 462.5,305.5" stroke="#880000" stroke-width="0.9" fill="none" />
<text x="466.6" y="307" font-family="Liberation Sans" font-size="4.2" fill="#880000" text-anchor="middle">F</text>
<text x="458.9" y="304.6" font-family="Liberation Sans" font-size="3.2" fill="#aa4444" text-anchor="middle">9</text>
<polyline points="456.5,312.7 462.5,312.7" stroke="#880000" stroke-width="0.9" fill="none" />
<text x="466.6" y="314.2" font-family="Liberation Sans" font-size="4.2" fill="#880000" text-anchor="middle">G</text>
<text x="458.9" y="311.8" font-family="Liberation Sans" font-size="3.2" fill="#aa4444" text-anchor="middle">10</text>
<text x="490.2" y="270.9" font-family="Liberation Sans" font-size="3.9" fill="#880000" text-anchor="end" letter-spacing="0.35">COMC1</text>
<text x="490.2" y="278.1" font-family="Liberation Sans" font-size="3.9" fill="#880000" text-anchor="end" letter-spacing="0.35">COMC2</text>
<text x="489.4" y="307" font-family="Liberation Sans" font-size="3.6" fill="#880000" text-anchor="end">DP</text>
<polyline points="492.6,269.5 499.2,269.5" stroke="#880000" stroke-width="0.9" fill="none" />
<polyline points="492.6,276.7 499.2,276.7" stroke="#880000" stroke-width="0.9" fill="none" />
<polyline points="492.6,305.1 499.2,305.1" stroke="#880000" stroke-width="0.9" fill="none" />
<text x="495.6" y="268.6" font-family="Liberation Sans" font-size="3.2" fill="#aa4444" text-anchor="middle">3</text>
<text x="495.6" y="275.8" font-family="Liberation Sans" font-size="3.2" fill="#aa4444" text-anchor="middle">8</text>
<text x="495.6" y="304.2" font-family="Liberation Sans" font-size="3.2" fill="#aa4444" text-anchor="middle">5</text>
<polyline points="474.1,281.1 485.3,281.1 482.2,300.5 471,300.5 474.1,281.1 485.3,281.1" stroke="#880000" stroke-width="2.1" fill="none" stroke-linejoin="round"/>
<polyline points="472.55,290.8 483.75,290.8" stroke="#880000" stroke-width="2" fill="none" />
<circle cx="485.7" cy="300.4" r="1.35" fill="#880000"/>
<polyline points="496.2,302.1 502.2,308.1" stroke="#33aa33" stroke-width="0.9" fill="none" />
<polyline points="496.2,308.1 502.2,302.1" stroke="#33aa33" stroke-width="0.9" fill="none" />
<polyline points="499.2,269.5 507.5,269.5" stroke="#000000" stroke-width="0.9" fill="none" />
<polyline points="507.5,262.75 507.5,276.25" stroke="#000000" stroke-width="0.9" fill="none" />
<polyline points="508.9,264.9 508.9,274.1" stroke="#000000" stroke-width="0.9" fill="none" />
<polyline points="510.3,266.9 510.3,272.1" stroke="#000000" stroke-width="0.9" fill="none" />
<polyline points="511.6,268.7 511.6,270.3" stroke="#000000" stroke-width="0.9" fill="none" />
<text x="511.9" y="272.3" font-family="Liberation Serif" font-size="8.75" fill="#000000" stroke="#000000" stroke-width="0.22">GND</text>
<polyline points="499.2,276.7 525,276.7" stroke="#008800" stroke-width="0.87" fill="none" />
<polyline points="525,276.7 532.6,276.7" stroke="#000000" stroke-width="0.9" fill="none" />
<polyline points="532.6,269.95 532.6,283.45" stroke="#000000" stroke-width="0.9" fill="none" />
<polyline points="534,272.1 534,281.3" stroke="#000000" stroke-width="0.9" fill="none" />
<polyline points="535.4,274.1 535.4,279.3" stroke="#000000" stroke-width="0.9" fill="none" />
<polyline points="536.7,275.9 536.7,277.5" stroke="#000000" stroke-width="0.9" fill="none" />
<text x="537" y="279.5" font-family="Liberation Serif" font-size="8.75" fill="#000000" stroke="#000000" stroke-width="0.22">GND</text>
<polyline points="456.5,269.5 343.8,269.5 343.8,330.7" stroke="#008800" stroke-width="0.87" fill="none" />
<polyline points="343.8,330.7 343.8,333.7" stroke="#880000" stroke-width="0.9" fill="none" />
<polyline points="343.8,333.7 347.35,336.4 340.25,339.84 347.35,343.28 340.25,346.72 347.35,350.16 340.25,353.6 343.8,356.3" stroke="#880000" stroke-width="1" fill="none" stroke-linejoin="miter"/>
<polyline points="343.8,356.3 343.8,359.3" stroke="#880000" stroke-width="0.9" fill="none" />
<text x="350" y="347" font-family="Liberation Sans" font-size="6.65" fill="#000080" stroke="#000080" stroke-width="0.2">R10</text>
<text x="350" y="353.7" font-family="Liberation Sans" font-size="6.65" fill="#000080" stroke="#000080" stroke-width="0.2">220</text>
<polyline points="456.5,276.7 361.8,276.7 361.8,330.7" stroke="#008800" stroke-width="0.87" fill="none" />
<polyline points="361.8,330.7 361.8,333.7" stroke="#880000" stroke-width="0.9" fill="none" />
<polyline points="361.8,333.7 365.35,336.4 358.25,339.84 365.35,343.28 358.25,346.72 365.35,350.16 358.25,353.6 361.8,356.3" stroke="#880000" stroke-width="1" fill="none" stroke-linejoin="miter"/>
<polyline points="361.8,356.3 361.8,359.3" stroke="#880000" stroke-width="0.9" fill="none" />
<text x="368" y="347" font-family="Liberation Sans" font-size="6.65" fill="#000080" stroke="#000080" stroke-width="0.2">R11</text>
<text x="368" y="353.7" font-family="Liberation Sans" font-size="6.65" fill="#000080" stroke="#000080" stroke-width="0.2">220</text>
<polyline points="456.5,283.9 380,283.9 380,330.7" stroke="#008800" stroke-width="0.87" fill="none" />
<polyline points="380,330.7 380,333.7" stroke="#880000" stroke-width="0.9" fill="none" />
<polyline points="380,333.7 383.55,336.4 376.45,339.84 383.55,343.28 376.45,346.72 383.55,350.16 376.45,353.6 380,356.3" stroke="#880000" stroke-width="1" fill="none" stroke-linejoin="miter"/>
<polyline points="380,356.3 380,359.3" stroke="#880000" stroke-width="0.9" fill="none" />
<text x="386.2" y="347" font-family="Liberation Sans" font-size="6.65" fill="#000080" stroke="#000080" stroke-width="0.2">R12</text>
<text x="386.2" y="353.7" font-family="Liberation Sans" font-size="6.65" fill="#000080" stroke="#000080" stroke-width="0.2">220</text>
<polyline points="456.5,291.1 394.5,291.1 394.5,330.7" stroke="#008800" stroke-width="0.87" fill="none" />
<polyline points="394.5,330.7 394.5,333.7" stroke="#880000" stroke-width="0.9" fill="none" />
<polyline points="394.5,333.7 398.05,336.4 390.95,339.84 398.05,343.28 390.95,346.72 398.05,350.16 390.95,353.6 394.5,356.3" stroke="#880000" stroke-width="1" fill="none" stroke-linejoin="miter"/>
<polyline points="394.5,356.3 394.5,359.3" stroke="#880000" stroke-width="0.9" fill="none" />
<text x="400.7" y="347" font-family="Liberation Sans" font-size="6.65" fill="#000080" stroke="#000080" stroke-width="0.2">R13</text>
<text x="400.7" y="353.7" font-family="Liberation Sans" font-size="6.65" fill="#000080" stroke="#000080" stroke-width="0.2">220</text>
<polyline points="456.5,298.3 412.5,298.3 412.5,330.7" stroke="#008800" stroke-width="0.87" fill="none" />
<polyline points="412.5,330.7 412.5,333.7" stroke="#880000" stroke-width="0.9" fill="none" />
<polyline points="412.5,333.7 416.05,336.4 408.95,339.84 416.05,343.28 408.95,346.72 416.05,350.16 408.95,353.6 412.5,356.3" stroke="#880000" stroke-width="1" fill="none" stroke-linejoin="miter"/>
<polyline points="412.5,356.3 412.5,359.3" stroke="#880000" stroke-width="0.9" fill="none" />
<text x="418.7" y="347" font-family="Liberation Sans" font-size="6.65" fill="#000080" stroke="#000080" stroke-width="0.2">R14</text>
<text x="418.7" y="353.7" font-family="Liberation Sans" font-size="6.65" fill="#000080" stroke="#000080" stroke-width="0.2">220</text>
<polyline points="456.5,305.5 430.5,305.5 430.5,330.7" stroke="#008800" stroke-width="0.87" fill="none" />
<polyline points="430.5,330.7 430.5,333.7" stroke="#880000" stroke-width="0.9" fill="none" />
<polyline points="430.5,333.7 434.05,336.4 426.95,339.84 434.05,343.28 426.95,346.72 434.05,350.16 426.95,353.6 430.5,356.3" stroke="#880000" stroke-width="1" fill="none" stroke-linejoin="miter"/>
<polyline points="430.5,356.3 430.5,359.3" stroke="#880000" stroke-width="0.9" fill="none" />
<text x="436.7" y="347" font-family="Liberation Sans" font-size="6.65" fill="#000080" stroke="#000080" stroke-width="0.2">R15</text>
<text x="436.7" y="353.7" font-family="Liberation Sans" font-size="6.65" fill="#000080" stroke="#000080" stroke-width="0.2">220</text>
<polyline points="456.5,312.7 448.8,312.7 448.8,330.7" stroke="#008800" stroke-width="0.87" fill="none" />
<polyline points="448.8,330.7 448.8,333.7" stroke="#880000" stroke-width="0.9" fill="none" />
<polyline points="448.8,333.7 452.35,336.4 445.25,339.84 452.35,343.28 445.25,346.72 452.35,350.16 445.25,353.6 448.8,356.3" stroke="#880000" stroke-width="1" fill="none" stroke-linejoin="miter"/>
<polyline points="448.8,356.3 448.8,359.3" stroke="#880000" stroke-width="0.9" fill="none" />
<text x="455" y="347" font-family="Liberation Sans" font-size="6.65" fill="#000080" stroke="#000080" stroke-width="0.2">R16</text>
<text x="455" y="353.7" font-family="Liberation Sans" font-size="6.65" fill="#000080" stroke="#000080" stroke-width="0.2">220 Ohm</text>
<rect x="470.5" y="381.3" width="65.3" height="82.9" stroke="#880000" stroke-width="1" fill="none" rx="1.5"/>
<polygon points="532.2,461.8 534.4,461.8 533.3,463.3" fill="#880000"/>
<text x="498.3" y="371.7" font-family="Liberation Sans" font-size="6.65" fill="#000080" stroke="#000080" stroke-width="0.2">U10</text>
<text x="497.8" y="378.3" font-family="Liberation Sans" font-size="6.65" fill="#000080" stroke="#000080" stroke-width="0.2">CD4026BE</text>
<polyline points="463.1,392.1 470.5,392.1" stroke="#880000" stroke-width="0.9" fill="none" />
<text x="467.1" y="391.2" font-family="Liberation Sans" font-size="7.3" fill="#0000ff" text-anchor="middle" stroke="#0000ff" stroke-width="0.2">5</text>
<text x="473.1" y="395.5" font-family="Liberation Sans" font-size="6.98" fill="#0000ff" textLength="46.19" lengthAdjust="spacing" stroke="#0000ff" stroke-width="0.18">CARRY_OUT</text>
<polyline points="463.1,399.3 470.5,399.3" stroke="#880000" stroke-width="0.9" fill="none" />
<text x="467.1" y="398.4" font-family="Liberation Sans" font-size="7.3" fill="#0000ff" text-anchor="middle" stroke="#0000ff" stroke-width="0.2">14</text>
<text x="473.1" y="402.7" font-family="Liberation Sans" font-size="6.98" fill="#0000ff" textLength="37.19" lengthAdjust="spacing" stroke="#0000ff" stroke-width="0.18">UNGATED</text>
<polyline points="463.1,413.8 470.5,413.8" stroke="#880000" stroke-width="0.9" fill="none" />
<text x="467.1" y="412.9" font-family="Liberation Sans" font-size="7.3" fill="#0000ff" text-anchor="middle" stroke="#0000ff" stroke-width="0.2">7</text>
<text x="473.1" y="417.2" font-family="Liberation Sans" font-size="6.98" fill="#0000ff" stroke="#0000ff" stroke-width="0.18">G</text>
<polyline points="463.1,421 470.5,421" stroke="#880000" stroke-width="0.9" fill="none" />
<text x="467.1" y="420.1" font-family="Liberation Sans" font-size="7.3" fill="#0000ff" text-anchor="middle" stroke="#0000ff" stroke-width="0.2">6</text>
<text x="473.1" y="424.4" font-family="Liberation Sans" font-size="6.98" fill="#0000ff" stroke="#0000ff" stroke-width="0.18">F</text>
<polyline points="463.1,428.3 470.5,428.3" stroke="#880000" stroke-width="0.9" fill="none" />
<text x="467.1" y="427.4" font-family="Liberation Sans" font-size="7.3" fill="#0000ff" text-anchor="middle" stroke="#0000ff" stroke-width="0.2">11</text>
<text x="473.1" y="431.7" font-family="Liberation Sans" font-size="6.98" fill="#0000ff" stroke="#0000ff" stroke-width="0.18">E</text>
<polyline points="463.1,435.5 470.5,435.5" stroke="#880000" stroke-width="0.9" fill="none" />
<text x="467.1" y="434.6" font-family="Liberation Sans" font-size="7.3" fill="#0000ff" text-anchor="middle" stroke="#0000ff" stroke-width="0.2">9</text>
<text x="473.1" y="438.9" font-family="Liberation Sans" font-size="6.98" fill="#0000ff" stroke="#0000ff" stroke-width="0.18">D</text>
<polyline points="463.1,442.8 470.5,442.8" stroke="#880000" stroke-width="0.9" fill="none" />
<text x="467.1" y="441.9" font-family="Liberation Sans" font-size="7.3" fill="#0000ff" text-anchor="middle" stroke="#0000ff" stroke-width="0.2">13</text>
<text x="473.1" y="446.2" font-family="Liberation Sans" font-size="6.98" fill="#0000ff" stroke="#0000ff" stroke-width="0.18">C</text>
<polyline points="463.1,450.1 470.5,450.1" stroke="#880000" stroke-width="0.9" fill="none" />
<text x="467.1" y="449.2" font-family="Liberation Sans" font-size="7.3" fill="#0000ff" text-anchor="middle" stroke="#0000ff" stroke-width="0.2">12</text>
<text x="473.1" y="453.5" font-family="Liberation Sans" font-size="6.98" fill="#0000ff" stroke="#0000ff" stroke-width="0.18">B</text>
<polyline points="463.1,457.4 470.5,457.4" stroke="#880000" stroke-width="0.9" fill="none" />
<text x="467.1" y="456.5" font-family="Liberation Sans" font-size="7.3" fill="#0000ff" text-anchor="middle" stroke="#0000ff" stroke-width="0.2">10</text>
<text x="473.1" y="460.8" font-family="Liberation Sans" font-size="6.98" fill="#0000ff" stroke="#0000ff" stroke-width="0.18">A</text>
<polyline points="535.8,392.1 540.8,392.1" stroke="#000000" stroke-width="0.9" fill="none" />
<text x="536.7" y="391.2" font-family="Liberation Sans" font-size="7.3" fill="#000000" stroke="#000000" stroke-width="0.2">8</text>
<text x="532.5" y="395.5" font-family="Liberation Sans" font-size="6.98" fill="#000000" text-anchor="end" textLength="15.39" lengthAdjust="spacing" stroke="#000000" stroke-width="0.18">VSS</text>
<polyline points="535.8,399.1 543.2,399.1" stroke="#880000" stroke-width="0.9" fill="none" />
<text x="536.7" y="398.2" font-family="Liberation Sans" font-size="7.3" fill="#ff0000" stroke="#ff0000" stroke-width="0.2">16</text>
<text x="532.5" y="402.5" font-family="Liberation Sans" font-size="6.98" fill="#ff0000" text-anchor="end" textLength="16.7" lengthAdjust="spacing" stroke="#ff0000" stroke-width="0.18">VDD</text>
<polyline points="535.8,417.4 543.2,417.4" stroke="#880000" stroke-width="0.9" fill="none" />
<text x="536.7" y="416.5" font-family="Liberation Sans" font-size="7.3" fill="#0000ff" stroke="#0000ff" stroke-width="0.2">4</text>
<text x="532.5" y="420.8" font-family="Liberation Sans" font-size="6.98" fill="#0000ff" text-anchor="end" textLength="49.97" lengthAdjust="spacing" stroke="#0000ff" stroke-width="0.18">DIS_EN_OUT</text>
<polyline points="535.8,424.6 543.2,424.6" stroke="#880000" stroke-width="0.9" fill="none" />
<text x="536.7" y="423.7" font-family="Liberation Sans" font-size="7.3" fill="#0000ff" stroke="#0000ff" stroke-width="0.2">3</text>
<text x="532.5" y="428" font-family="Liberation Sans" font-size="6.98" fill="#0000ff" text-anchor="end" textLength="42.73" lengthAdjust="spacing" stroke="#0000ff" stroke-width="0.18">DIS_EN_IN</text>
<polyline points="535.8,439.3 543.2,439.3" stroke="#880000" stroke-width="0.9" fill="none" />
<text x="536.7" y="438.4" font-family="Liberation Sans" font-size="7.3" fill="#0000ff" stroke="#0000ff" stroke-width="0.2">15</text>
<text x="532.5" y="442.7" font-family="Liberation Sans" font-size="6.98" fill="#0000ff" text-anchor="end" textLength="24.44" lengthAdjust="spacing" stroke="#0000ff" stroke-width="0.18">RESET</text>
<polyline points="535.8,450.1 543.2,450.1" stroke="#880000" stroke-width="0.9" fill="none" />
<text x="536.7" y="449.2" font-family="Liberation Sans" font-size="7.3" fill="#0000ff" stroke="#0000ff" stroke-width="0.2">2</text>
<text x="532.5" y="453.5" font-family="Liberation Sans" font-size="6.98" fill="#0000ff" text-anchor="end" textLength="44.92" lengthAdjust="spacing" stroke="#0000ff" stroke-width="0.18">CLOCK_INH</text>
<polyline points="535.8,457.4 543.2,457.4" stroke="#880000" stroke-width="0.9" fill="none" />
<text x="536.7" y="456.5" font-family="Liberation Sans" font-size="7.3" fill="#0000ff" stroke="#0000ff" stroke-width="0.2">1</text>
<text x="532.5" y="460.8" font-family="Liberation Sans" font-size="6.98" fill="#0000ff" text-anchor="end" textLength="25.75" lengthAdjust="spacing" stroke="#0000ff" stroke-width="0.18">CLOCK</text>
<polyline points="458.6,396.3 464.6,402.3" stroke="#33aa33" stroke-width="0.9" fill="none" />
<polyline points="458.6,402.3 464.6,396.3" stroke="#33aa33" stroke-width="0.9" fill="none" />
<polyline points="448.8,359.5 448.8,413.8 463.1,413.8" stroke="#008800" stroke-width="0.87" fill="none" />
<polyline points="430.5,359.5 430.5,421 463.1,421" stroke="#008800" stroke-width="0.87" fill="none" />
<polyline points="412.5,359.5 412.5,362.5 423.8,362.5 423.8,428.3 463.1,428.3" stroke="#008800" stroke-width="0.87" fill="none" />
<polyline points="394.5,359.5 394.5,366.3 419.6,366.3 419.6,435.5 463.1,435.5" stroke="#008800" stroke-width="0.87" fill="none" />
<polyline points="380,359.5 380,369.6 416.3,369.6 416.3,442.8 463.1,442.8" stroke="#008800" stroke-width="0.87" fill="none" />
<polyline points="361.8,359.5 361.8,373.3 408.8,373.3 408.8,450.1 463.1,450.1" stroke="#008800" stroke-width="0.87" fill="none" />
<polyline points="343.8,359.5 343.8,380.8 401.7,380.8 401.7,457.4 463.1,457.4" stroke="#008800" stroke-width="0.87" fill="none" />
<polyline points="379.6,392.1 375,388.2 365,388.2 365,396 375,396 379.6,392.1" stroke="#0000ff" stroke-width="0.9" fill="none" />
<polyline points="379.6,392.1 463.1,392.1" stroke="#008800" stroke-width="0.87" fill="none" />
<text x="332.5" y="404.8" font-family="Liberation Serif" font-size="8.5" fill="#0000ff" textLength="50.3" lengthAdjust="spacingAndGlyphs" stroke="#0000ff" stroke-width="0.22">SEC_DEC_INC</text>
<polyline points="540.8,392.1 605,392.1" stroke="#008800" stroke-width="0.87" fill="none" />
<polyline points="553.3,392.1 553.3,378" stroke="#008800" stroke-width="0.87" fill="none" />
<polyline points="553.3,378 553.3,373.8" stroke="#000000" stroke-width="0.9" fill="none" />
<polyline points="546.55,373.8 560.05,373.8" stroke="#000000" stroke-width="0.9" fill="none" />
<polyline points="548.7,372.4 557.9,372.4" stroke="#000000" stroke-width="0.9" fill="none" />
<polyline points="550.7,371 555.9,371" stroke="#000000" stroke-width="0.9" fill="none" />
<polyline points="552.5,369.7 554.1,369.7" stroke="#000000" stroke-width="0.9" fill="none" />
<text x="553.3" y="367.5" font-family="Liberation Serif" font-size="8.75" fill="#000000" text-anchor="middle" stroke="#000000" stroke-width="0.22">GND</text>
<polyline points="543.2,399.1 605,399.1" stroke="#008800" stroke-width="0.87" fill="none" />
<polyline points="578.8,420.8 578.8,379" stroke="#008800" stroke-width="0.87" fill="none" />
<polyline points="578.8,379 578.8,374.3" stroke="#000000" stroke-width="0.9" fill="none" />
<polyline points="575.05,374.3 582.55,374.3" stroke="#000000" stroke-width="0.9" fill="none" />
<text x="578.8" y="371.7" font-family="Liberation Serif" font-size="8.75" fill="#000000" text-anchor="middle" stroke="#000000" stroke-width="0.22">VCC</text>
<polyline points="578.8,420.8 605,420.8" stroke="#008800" stroke-width="0.87" fill="none" />
<polyline points="597.5,392.1 597.5,405" stroke="#880000" stroke-width="0.9" fill="none" />
<polyline points="591.3,405 604,405" stroke="#880000" stroke-width="1" fill="none" />
<polyline points="591.3,407.9 604,407.9" stroke="#880000" stroke-width="1" fill="none" />
<polyline points="597.5,407.9 597.5,420.8" stroke="#880000" stroke-width="0.9" fill="none" />
<polyline points="540,414.4 546,420.4" stroke="#33aa33" stroke-width="0.9" fill="none" />
<polyline points="540,420.4 546,414.4" stroke="#33aa33" stroke-width="0.9" fill="none" />
<polyline points="543.2,424.6 564.5,424.6 564.5,416.5" stroke="#008800" stroke-width="0.87" fill="none" />
<polyline points="564.5,416.5 564.5,410.2" stroke="#000000" stroke-width="0.9" fill="none" />
<polyline points="560.75,410.2 568.25,410.2" stroke="#000000" stroke-width="0.9" fill="none" />
<text x="564.5" y="407.6" font-family="Liberation Serif" font-size="8.75" fill="#000000" text-anchor="middle" stroke="#000000" stroke-width="0.22">VCC</text>
<polyline points="543.2,439.3 605,439.3" stroke="#008800" stroke-width="0.87" fill="none" />
<polyline points="543.2,450.1 605,450.1" stroke="#008800" stroke-width="0.87" fill="none" />
<polyline points="543.2,457.4 553.6,457.4" stroke="#008800" stroke-width="0.87" fill="none" />
<polyline points="553.6,457.4 558.2,453.5 567.6,453.5 567.6,461.3 558.2,461.3 553.6,457.4" stroke="#0000ff" stroke-width="0.9" fill="none" />
<text x="569.4" y="458.7" font-family="Liberation Serif" font-size="8.5" fill="#0000ff" textLength="44.6" lengthAdjust="spacingAndGlyphs" stroke="#0000ff" stroke-width="0.22">1 Hertz Signal</text>
<text x="328.7" y="485.8" font-family="Liberation Sans" font-size="9.49" fill="#0000ff" textLength="90.68" lengthAdjust="spacingAndGlyphs" stroke="#0000ff" stroke-width="0.35">Seconds units count</text>
<circle cx="169" cy="51.2" r="1.75" fill="#dd0000"/>
<circle cx="212.5" cy="51.2" r="1.75" fill="#dd0000"/>
<circle cx="343.6" cy="105.8" r="1.75" fill="#dd0000"/>
<circle cx="423.3" cy="43.8" r="1.75" fill="#dd0000"/>
<circle cx="495.6" cy="105.8" r="1.75" fill="#dd0000"/>
<circle cx="568.1" cy="43.8" r="1.75" fill="#dd0000"/>
<circle cx="419.6" cy="152.5" r="1.75" fill="#dd0000"/>
<circle cx="513.8" cy="167.06" r="1.75" fill="#dd0000"/>
<circle cx="499.3" cy="188.9" r="1.75" fill="#dd0000"/>
<circle cx="394.4" cy="181.62" r="1.6" fill="#dd0000"/>
<circle cx="401.3" cy="181.62" r="1.6" fill="#dd0000"/>
<circle cx="408.8" cy="181.62" r="1.6" fill="#dd0000"/>
<circle cx="412.4" cy="181.62" r="1.6" fill="#dd0000"/>
<circle cx="67.5" cy="326.7" r="1.6" fill="#dd0000"/>
<circle cx="49.5" cy="333.9" r="1.6" fill="#dd0000"/>
<circle cx="42.5" cy="341.2" r="1.6" fill="#dd0000"/>
<circle cx="38.9" cy="348.4" r="1.6" fill="#dd0000"/>
<circle cx="35.3" cy="355.7" r="1.6" fill="#dd0000"/>
<circle cx="27.6" cy="363" r="1.6" fill="#dd0000"/>
<circle cx="20.5" cy="370.3" r="1.6" fill="#dd0000"/>
<circle cx="172.7" cy="305" r="1.75" fill="#dd0000"/>
<circle cx="198.2" cy="312" r="1.75" fill="#dd0000"/>
<circle cx="234.6" cy="352.2" r="1.75" fill="#dd0000"/>
<circle cx="125.9" cy="432" r="1.6" fill="#dd0000"/>
<circle cx="140.5" cy="432" r="1.6" fill="#dd0000"/>
<circle cx="147.8" cy="432" r="1.6" fill="#dd0000"/>
<circle cx="553.3" cy="392.1" r="1.75" fill="#dd0000"/>
<circle cx="578.8" cy="399.1" r="1.75" fill="#dd0000"/>
</svg>
</body></html>
